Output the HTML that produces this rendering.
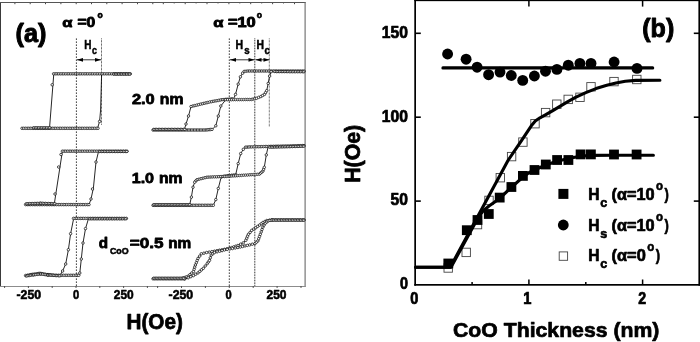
<!DOCTYPE html>
<html><head><meta charset="utf-8"><title>figure</title><style>html,body{margin:0;padding:0;background:#fff}svg{display:block}</style></head><body>
<svg width="700" height="342" viewBox="0 0 700 342">
<rect width="700" height="342" fill="#fff"/>
<rect x="0" y="2" width="1" height="285" fill="#3a3a3a"/>
<line x1="0" y1="2.5" x2="305.6" y2="2.5" stroke="#555" stroke-width="1"/>
<line x1="305.1" y1="2" x2="305.1" y2="287" stroke="#6a6a6a" stroke-width="1.1"/>
<line x1="0" y1="286.5" x2="305.6" y2="286.5" stroke="#8c8c8c" stroke-width="1"/>
<line x1="14.9" y1="3" x2="14.9" y2="4.2" stroke="#333" stroke-width="0.9"/>
<line x1="30.2" y1="3" x2="30.2" y2="4.2" stroke="#333" stroke-width="0.9"/>
<line x1="45.5" y1="3" x2="45.5" y2="4.2" stroke="#333" stroke-width="0.9"/>
<line x1="60.9" y1="3" x2="60.9" y2="4.2" stroke="#333" stroke-width="0.9"/>
<line x1="76.2" y1="3" x2="76.2" y2="4.2" stroke="#333" stroke-width="0.9"/>
<line x1="91.5" y1="3" x2="91.5" y2="4.2" stroke="#333" stroke-width="0.9"/>
<line x1="106.8" y1="3" x2="106.8" y2="4.2" stroke="#333" stroke-width="0.9"/>
<line x1="122.1" y1="3" x2="122.1" y2="4.2" stroke="#333" stroke-width="0.9"/>
<line x1="137.5" y1="3" x2="137.5" y2="4.2" stroke="#333" stroke-width="0.9"/>
<line x1="152.8" y1="3" x2="152.8" y2="4.2" stroke="#333" stroke-width="0.9"/>
<line x1="163.3" y1="3" x2="163.3" y2="4.2" stroke="#333" stroke-width="0.9"/>
<line x1="174.2" y1="3" x2="174.2" y2="3.8" stroke="#777" stroke-width="0.8"/>
<line x1="185.2" y1="3" x2="185.2" y2="4.2" stroke="#333" stroke-width="0.9"/>
<line x1="196.1" y1="3" x2="196.1" y2="3.8" stroke="#777" stroke-width="0.8"/>
<line x1="207.0" y1="3" x2="207.0" y2="4.2" stroke="#333" stroke-width="0.9"/>
<line x1="218.0" y1="3" x2="218.0" y2="3.8" stroke="#777" stroke-width="0.8"/>
<line x1="228.9" y1="3" x2="228.9" y2="4.2" stroke="#333" stroke-width="0.9"/>
<line x1="239.8" y1="3" x2="239.8" y2="3.8" stroke="#777" stroke-width="0.8"/>
<line x1="250.7" y1="3" x2="250.7" y2="4.2" stroke="#333" stroke-width="0.9"/>
<line x1="261.7" y1="3" x2="261.7" y2="3.8" stroke="#777" stroke-width="0.8"/>
<line x1="272.6" y1="3" x2="272.6" y2="4.2" stroke="#333" stroke-width="0.9"/>
<line x1="283.5" y1="3" x2="283.5" y2="3.8" stroke="#777" stroke-width="0.8"/>
<line x1="294.5" y1="3" x2="294.5" y2="4.2" stroke="#333" stroke-width="0.9"/>
<line x1="4.6" y1="286" x2="4.6" y2="288" stroke="#444" stroke-width="0.9"/>
<line x1="28.4" y1="286" x2="28.4" y2="288" stroke="#444" stroke-width="0.9"/>
<line x1="52.2" y1="286" x2="52.2" y2="288" stroke="#444" stroke-width="0.9"/>
<line x1="76.0" y1="286" x2="76.0" y2="288" stroke="#444" stroke-width="0.9"/>
<line x1="99.8" y1="286" x2="99.8" y2="288" stroke="#444" stroke-width="0.9"/>
<line x1="123.6" y1="286" x2="123.6" y2="288" stroke="#444" stroke-width="0.9"/>
<line x1="147.4" y1="286" x2="147.4" y2="288" stroke="#444" stroke-width="0.9"/>
<line x1="157.6" y1="286" x2="157.6" y2="288" stroke="#444" stroke-width="0.9"/>
<line x1="181.5" y1="286" x2="181.5" y2="288" stroke="#444" stroke-width="0.9"/>
<line x1="205.4" y1="286" x2="205.4" y2="288" stroke="#444" stroke-width="0.9"/>
<line x1="229.3" y1="286" x2="229.3" y2="288" stroke="#444" stroke-width="0.9"/>
<line x1="253.2" y1="286" x2="253.2" y2="288" stroke="#444" stroke-width="0.9"/>
<line x1="277.1" y1="286" x2="277.1" y2="288" stroke="#444" stroke-width="0.9"/>
<line x1="301.0" y1="286" x2="301.0" y2="288" stroke="#444" stroke-width="0.9"/>
<text x="16.5" y="298.6" font-size="12" textLength="24.6" lengthAdjust="spacingAndGlyphs" font-family="Liberation Sans, sans-serif" font-weight="bold" stroke="#000" stroke-width="0.55" stroke-linejoin="round" >-250</text>
<text x="73.1" y="298.6" font-size="12" textLength="6.200000000000003" lengthAdjust="spacingAndGlyphs" font-family="Liberation Sans, sans-serif" font-weight="bold" stroke="#000" stroke-width="0.55" stroke-linejoin="round" >0</text>
<text x="113.8" y="298.6" font-size="12" textLength="19.89999999999999" lengthAdjust="spacingAndGlyphs" font-family="Liberation Sans, sans-serif" font-weight="bold" stroke="#000" stroke-width="0.55" stroke-linejoin="round" >250</text>
<text x="168.6" y="298.6" font-size="12" textLength="24.599999999999994" lengthAdjust="spacingAndGlyphs" font-family="Liberation Sans, sans-serif" font-weight="bold" stroke="#000" stroke-width="0.55" stroke-linejoin="round" >-250</text>
<text x="225.4" y="298.6" font-size="12" textLength="6.199999999999989" lengthAdjust="spacingAndGlyphs" font-family="Liberation Sans, sans-serif" font-weight="bold" stroke="#000" stroke-width="0.55" stroke-linejoin="round" >0</text>
<text x="266.5" y="298.6" font-size="12" textLength="20.0" lengthAdjust="spacingAndGlyphs" font-family="Liberation Sans, sans-serif" font-weight="bold" stroke="#000" stroke-width="0.55" stroke-linejoin="round" >250</text>
<text x="126.5" y="329.1" font-size="21.4" textLength="56.3" lengthAdjust="spacingAndGlyphs" font-family="Liberation Sans, sans-serif" font-weight="bold" stroke="#000" stroke-width="0.75" stroke-linejoin="round" >H(Oe)</text>
<line x1="76.4" y1="38.5" x2="76.4" y2="286" stroke="#111" stroke-width="1.0" stroke-dasharray="1.3,1.7"/>
<line x1="101.5" y1="38.5" x2="101.5" y2="125" stroke="#333" stroke-width="1.0" stroke-dasharray="0.7,0.7"/>
<line x1="229.3" y1="38.5" x2="229.3" y2="286" stroke="#111" stroke-width="1.0" stroke-dasharray="1.3,1.7"/>
<line x1="254.8" y1="38.5" x2="254.8" y2="286" stroke="#000" stroke-width="1.0" stroke-dasharray="0.8,0.8"/>
<line x1="269.3" y1="38.5" x2="269.3" y2="127" stroke="#444" stroke-width="1.0" stroke-dasharray="0.7,0.7"/>
<line x1="77" y1="59.8" x2="101" y2="59.8" stroke="#000" stroke-width="0.8"/>
<path d="M77,59.8 l6,-1.9 l0,3.8 z" fill="#000"/>
<path d="M101,59.8 l-6,-1.9 l0,3.8 z" fill="#000"/>
<line x1="230" y1="59.8" x2="254.5" y2="59.8" stroke="#000" stroke-width="0.8"/>
<path d="M230,59.8 l6,-1.9 l0,3.8 z" fill="#000"/>
<path d="M254.5,59.8 l-6,-1.9 l0,3.8 z" fill="#000"/>
<line x1="255.5" y1="59.8" x2="269.5" y2="59.8" stroke="#000" stroke-width="0.8"/>
<path d="M255.5,59.8 l6,-1.9 l0,3.8 z" fill="#000"/>
<path d="M269.5,59.8 l-6,-1.9 l0,3.8 z" fill="#000"/>
<text x="15.6" y="41.5" font-size="25" textLength="30.9" lengthAdjust="spacingAndGlyphs" font-family="Liberation Sans, sans-serif" font-weight="bold" stroke="#000" stroke-width="0.95" stroke-linejoin="round" >(a)</text>
<text font-family="Liberation Sans, sans-serif" font-weight="bold" stroke="#000" stroke-linejoin="round"><tspan x="62.3" y="26.9" font-size="13.5" textLength="10.2" lengthAdjust="spacingAndGlyphs" stroke-width="0.8">α</tspan><tspan x="77.5" y="26.9" font-size="14" textLength="17.8" lengthAdjust="spacingAndGlyphs" stroke-width="0.9">=0</tspan><tspan x="97.5" y="18.1" font-size="9.2" textLength="5.2" lengthAdjust="spacingAndGlyphs" stroke-width="0.75">o</tspan></text>
<text font-family="Liberation Sans, sans-serif" font-weight="bold" stroke="#000" stroke-linejoin="round"><tspan x="213.2" y="26.8" font-size="13.5" textLength="10.2" lengthAdjust="spacingAndGlyphs" stroke-width="0.8">α</tspan><tspan x="227.9" y="26.8" font-size="14" textLength="27.8" lengthAdjust="spacingAndGlyphs" stroke-width="0.9">=10</tspan><tspan x="256.8" y="18.1" font-size="9.2" textLength="5.2" lengthAdjust="spacingAndGlyphs" stroke-width="0.75">o</tspan></text>
<text font-family="Liberation Sans, sans-serif" font-weight="bold" stroke="#000" stroke-linejoin="round"><tspan x="84.2" y="49.3" font-size="12.5" textLength="7.2" lengthAdjust="spacingAndGlyphs" stroke-width="0.5">H</tspan><tspan x="92.1" y="54.2" font-size="10.3" textLength="4.9" lengthAdjust="spacingAndGlyphs" stroke-width="0.5">c</tspan></text>
<text font-family="Liberation Sans, sans-serif" font-weight="bold" stroke="#000" stroke-linejoin="round"><tspan x="235.6" y="48.5" font-size="12.5" textLength="7.6" lengthAdjust="spacingAndGlyphs" stroke-width="0.5">H</tspan><tspan x="244.2" y="53.6" font-size="10.3" textLength="5.4" lengthAdjust="spacingAndGlyphs" stroke-width="0.5">s</tspan></text>
<text font-family="Liberation Sans, sans-serif" font-weight="bold" stroke="#000" stroke-linejoin="round"><tspan x="256.5" y="48.5" font-size="12.5" textLength="7.5" lengthAdjust="spacingAndGlyphs" stroke-width="0.5">H</tspan><tspan x="264.6" y="53.6" font-size="10.3" textLength="5.2" lengthAdjust="spacingAndGlyphs" stroke-width="0.5">c</tspan></text>
<text font-family="Liberation Sans, sans-serif" font-weight="bold" stroke="#000" stroke-linejoin="round"><tspan x="131.9" y="103.7" font-size="15" textLength="22.8" lengthAdjust="spacingAndGlyphs" stroke-width="0.8">2.0</tspan> <tspan x="159.8" y="103.7" font-size="15" textLength="23.6" lengthAdjust="spacingAndGlyphs" stroke-width="0.8">nm</tspan></text>
<text font-family="Liberation Sans, sans-serif" font-weight="bold" stroke="#000" stroke-linejoin="round"><tspan x="131.7" y="183.1" font-size="15" textLength="22.4" lengthAdjust="spacingAndGlyphs" stroke-width="0.8">1.0</tspan> <tspan x="159" y="183.1" font-size="15" textLength="23.6" lengthAdjust="spacingAndGlyphs" stroke-width="0.8">nm</tspan></text>
<text font-family="Liberation Sans, sans-serif" font-weight="bold" stroke="#000" stroke-linejoin="round"><tspan x="98.8" y="247.8" font-size="15" textLength="9.3" lengthAdjust="spacingAndGlyphs" stroke-width="0.8">d</tspan><tspan x="109.9" y="254.2" font-size="9.6" textLength="18.7" lengthAdjust="spacingAndGlyphs" stroke-width="0.55">CoO</tspan><tspan x="129.7" y="247.9" font-size="15" textLength="33.8" lengthAdjust="spacingAndGlyphs" stroke-width="0.8">=0.5</tspan> <tspan x="168.2" y="247.9" font-size="15" textLength="23" lengthAdjust="spacingAndGlyphs" stroke-width="0.8">nm</tspan></text>
<polyline fill="none" stroke="#000" stroke-width="0.85" points="53.6,73.8 130.3,73.8"/>
<polyline fill="none" stroke="#000" stroke-width="0.85" points="22.0,128.3 98.0,128.3"/>
<polyline fill="none" stroke="#000" stroke-width="0.85" points="53.8,73.8 49.5,128.3"/>
<polyline fill="none" stroke="#000" stroke-width="0.85" points="97.5,128.3 99.6,121.4 100.6,110.0 101.6,74.5"/>
<circle cx="53.6" cy="73.8" r="1.25" fill="#fff" stroke="#000" stroke-width="0.7"/>
<circle cx="55.3" cy="73.8" r="1.25" fill="#fff" stroke="#000" stroke-width="0.7"/>
<circle cx="57.0" cy="73.8" r="1.25" fill="#fff" stroke="#000" stroke-width="0.7"/>
<circle cx="58.7" cy="73.8" r="1.25" fill="#fff" stroke="#000" stroke-width="0.7"/>
<circle cx="60.4" cy="73.8" r="1.25" fill="#fff" stroke="#000" stroke-width="0.7"/>
<circle cx="62.1" cy="73.8" r="1.25" fill="#fff" stroke="#000" stroke-width="0.7"/>
<circle cx="63.8" cy="73.8" r="1.25" fill="#fff" stroke="#000" stroke-width="0.7"/>
<circle cx="65.5" cy="73.8" r="1.25" fill="#fff" stroke="#000" stroke-width="0.7"/>
<circle cx="67.2" cy="73.8" r="1.25" fill="#fff" stroke="#000" stroke-width="0.7"/>
<circle cx="68.9" cy="73.8" r="1.25" fill="#fff" stroke="#000" stroke-width="0.7"/>
<circle cx="70.6" cy="73.8" r="1.25" fill="#fff" stroke="#000" stroke-width="0.7"/>
<circle cx="72.3" cy="73.8" r="1.25" fill="#fff" stroke="#000" stroke-width="0.7"/>
<circle cx="74.1" cy="73.8" r="1.25" fill="#fff" stroke="#000" stroke-width="0.7"/>
<circle cx="75.8" cy="73.8" r="1.25" fill="#fff" stroke="#000" stroke-width="0.7"/>
<circle cx="77.5" cy="73.8" r="1.25" fill="#fff" stroke="#000" stroke-width="0.7"/>
<circle cx="79.2" cy="73.8" r="1.25" fill="#fff" stroke="#000" stroke-width="0.7"/>
<circle cx="80.9" cy="73.8" r="1.25" fill="#fff" stroke="#000" stroke-width="0.7"/>
<circle cx="82.6" cy="73.8" r="1.25" fill="#fff" stroke="#000" stroke-width="0.7"/>
<circle cx="84.3" cy="73.8" r="1.25" fill="#fff" stroke="#000" stroke-width="0.7"/>
<circle cx="86.0" cy="73.8" r="1.25" fill="#fff" stroke="#000" stroke-width="0.7"/>
<circle cx="87.7" cy="73.8" r="1.25" fill="#fff" stroke="#000" stroke-width="0.7"/>
<circle cx="89.4" cy="73.8" r="1.25" fill="#fff" stroke="#000" stroke-width="0.7"/>
<circle cx="91.1" cy="73.8" r="1.25" fill="#fff" stroke="#000" stroke-width="0.7"/>
<circle cx="92.8" cy="73.8" r="1.25" fill="#fff" stroke="#000" stroke-width="0.7"/>
<circle cx="94.5" cy="73.8" r="1.25" fill="#fff" stroke="#000" stroke-width="0.7"/>
<circle cx="96.2" cy="73.8" r="1.25" fill="#fff" stroke="#000" stroke-width="0.7"/>
<circle cx="97.9" cy="73.8" r="1.25" fill="#fff" stroke="#000" stroke-width="0.7"/>
<circle cx="99.6" cy="73.8" r="1.25" fill="#fff" stroke="#000" stroke-width="0.7"/>
<circle cx="101.3" cy="73.8" r="1.25" fill="#fff" stroke="#000" stroke-width="0.7"/>
<circle cx="103.0" cy="73.8" r="1.25" fill="#fff" stroke="#000" stroke-width="0.7"/>
<circle cx="104.7" cy="73.8" r="1.25" fill="#fff" stroke="#000" stroke-width="0.7"/>
<circle cx="106.4" cy="73.8" r="1.25" fill="#fff" stroke="#000" stroke-width="0.7"/>
<circle cx="108.1" cy="73.8" r="1.25" fill="#fff" stroke="#000" stroke-width="0.7"/>
<circle cx="109.8" cy="73.8" r="1.25" fill="#fff" stroke="#000" stroke-width="0.7"/>
<circle cx="111.6" cy="73.8" r="1.25" fill="#fff" stroke="#000" stroke-width="0.7"/>
<circle cx="113.3" cy="73.8" r="1.25" fill="#fff" stroke="#000" stroke-width="0.7"/>
<circle cx="115.0" cy="73.8" r="1.25" fill="#fff" stroke="#000" stroke-width="0.7"/>
<circle cx="116.7" cy="73.8" r="1.25" fill="#fff" stroke="#000" stroke-width="0.7"/>
<circle cx="118.4" cy="73.8" r="1.25" fill="#fff" stroke="#000" stroke-width="0.7"/>
<circle cx="120.1" cy="73.8" r="1.25" fill="#fff" stroke="#000" stroke-width="0.7"/>
<circle cx="121.8" cy="73.8" r="1.25" fill="#fff" stroke="#000" stroke-width="0.7"/>
<circle cx="123.5" cy="73.8" r="1.25" fill="#fff" stroke="#000" stroke-width="0.7"/>
<circle cx="125.2" cy="73.8" r="1.25" fill="#fff" stroke="#000" stroke-width="0.7"/>
<circle cx="126.9" cy="73.8" r="1.25" fill="#fff" stroke="#000" stroke-width="0.7"/>
<circle cx="128.6" cy="73.8" r="1.25" fill="#fff" stroke="#000" stroke-width="0.7"/>
<circle cx="130.3" cy="73.8" r="1.25" fill="#fff" stroke="#000" stroke-width="0.7"/>
<circle cx="22.0" cy="128.3" r="1.25" fill="#fff" stroke="#000" stroke-width="0.7"/>
<circle cx="23.7" cy="128.3" r="1.25" fill="#fff" stroke="#000" stroke-width="0.7"/>
<circle cx="25.4" cy="128.3" r="1.25" fill="#fff" stroke="#000" stroke-width="0.7"/>
<circle cx="27.1" cy="128.3" r="1.25" fill="#fff" stroke="#000" stroke-width="0.7"/>
<circle cx="28.8" cy="128.3" r="1.25" fill="#fff" stroke="#000" stroke-width="0.7"/>
<circle cx="30.4" cy="128.3" r="1.25" fill="#fff" stroke="#000" stroke-width="0.7"/>
<circle cx="32.1" cy="128.3" r="1.25" fill="#fff" stroke="#000" stroke-width="0.7"/>
<circle cx="33.8" cy="128.3" r="1.25" fill="#fff" stroke="#000" stroke-width="0.7"/>
<circle cx="35.5" cy="128.3" r="1.25" fill="#fff" stroke="#000" stroke-width="0.7"/>
<circle cx="37.2" cy="128.3" r="1.25" fill="#fff" stroke="#000" stroke-width="0.7"/>
<circle cx="38.9" cy="128.3" r="1.25" fill="#fff" stroke="#000" stroke-width="0.7"/>
<circle cx="40.6" cy="128.3" r="1.25" fill="#fff" stroke="#000" stroke-width="0.7"/>
<circle cx="42.3" cy="128.3" r="1.25" fill="#fff" stroke="#000" stroke-width="0.7"/>
<circle cx="44.0" cy="128.3" r="1.25" fill="#fff" stroke="#000" stroke-width="0.7"/>
<circle cx="45.6" cy="128.3" r="1.25" fill="#fff" stroke="#000" stroke-width="0.7"/>
<circle cx="47.3" cy="128.3" r="1.25" fill="#fff" stroke="#000" stroke-width="0.7"/>
<circle cx="49.0" cy="128.3" r="1.25" fill="#fff" stroke="#000" stroke-width="0.7"/>
<circle cx="50.7" cy="128.3" r="1.25" fill="#fff" stroke="#000" stroke-width="0.7"/>
<circle cx="52.4" cy="128.3" r="1.25" fill="#fff" stroke="#000" stroke-width="0.7"/>
<circle cx="54.1" cy="128.3" r="1.25" fill="#fff" stroke="#000" stroke-width="0.7"/>
<circle cx="55.8" cy="128.3" r="1.25" fill="#fff" stroke="#000" stroke-width="0.7"/>
<circle cx="57.5" cy="128.3" r="1.25" fill="#fff" stroke="#000" stroke-width="0.7"/>
<circle cx="59.2" cy="128.3" r="1.25" fill="#fff" stroke="#000" stroke-width="0.7"/>
<circle cx="60.8" cy="128.3" r="1.25" fill="#fff" stroke="#000" stroke-width="0.7"/>
<circle cx="62.5" cy="128.3" r="1.25" fill="#fff" stroke="#000" stroke-width="0.7"/>
<circle cx="64.2" cy="128.3" r="1.25" fill="#fff" stroke="#000" stroke-width="0.7"/>
<circle cx="65.9" cy="128.3" r="1.25" fill="#fff" stroke="#000" stroke-width="0.7"/>
<circle cx="67.6" cy="128.3" r="1.25" fill="#fff" stroke="#000" stroke-width="0.7"/>
<circle cx="69.3" cy="128.3" r="1.25" fill="#fff" stroke="#000" stroke-width="0.7"/>
<circle cx="71.0" cy="128.3" r="1.25" fill="#fff" stroke="#000" stroke-width="0.7"/>
<circle cx="72.7" cy="128.3" r="1.25" fill="#fff" stroke="#000" stroke-width="0.7"/>
<circle cx="74.4" cy="128.3" r="1.25" fill="#fff" stroke="#000" stroke-width="0.7"/>
<circle cx="76.0" cy="128.3" r="1.25" fill="#fff" stroke="#000" stroke-width="0.7"/>
<circle cx="77.7" cy="128.3" r="1.25" fill="#fff" stroke="#000" stroke-width="0.7"/>
<circle cx="79.4" cy="128.3" r="1.25" fill="#fff" stroke="#000" stroke-width="0.7"/>
<circle cx="81.1" cy="128.3" r="1.25" fill="#fff" stroke="#000" stroke-width="0.7"/>
<circle cx="82.8" cy="128.3" r="1.25" fill="#fff" stroke="#000" stroke-width="0.7"/>
<circle cx="84.5" cy="128.3" r="1.25" fill="#fff" stroke="#000" stroke-width="0.7"/>
<circle cx="86.2" cy="128.3" r="1.25" fill="#fff" stroke="#000" stroke-width="0.7"/>
<circle cx="87.9" cy="128.3" r="1.25" fill="#fff" stroke="#000" stroke-width="0.7"/>
<circle cx="89.6" cy="128.3" r="1.25" fill="#fff" stroke="#000" stroke-width="0.7"/>
<circle cx="91.2" cy="128.3" r="1.25" fill="#fff" stroke="#000" stroke-width="0.7"/>
<circle cx="92.9" cy="128.3" r="1.25" fill="#fff" stroke="#000" stroke-width="0.7"/>
<circle cx="94.6" cy="128.3" r="1.25" fill="#fff" stroke="#000" stroke-width="0.7"/>
<circle cx="96.3" cy="128.3" r="1.25" fill="#fff" stroke="#000" stroke-width="0.7"/>
<circle cx="98.0" cy="128.3" r="1.25" fill="#fff" stroke="#000" stroke-width="0.7"/>
<circle cx="52.2" cy="84.8" r="1.25" fill="#fff" stroke="#000" stroke-width="0.7"/>
<circle cx="99.6" cy="121.4" r="1.25" fill="#fff" stroke="#000" stroke-width="0.7"/>
<circle cx="33.8" cy="127.8" r="1.2" fill="#fff" stroke="#000" stroke-width="0.75"/>
<circle cx="35.4" cy="127.8" r="1.2" fill="#fff" stroke="#000" stroke-width="0.75"/>
<circle cx="37.0" cy="127.8" r="1.2" fill="#fff" stroke="#000" stroke-width="0.75"/>
<circle cx="38.6" cy="127.8" r="1.2" fill="#fff" stroke="#000" stroke-width="0.75"/>
<circle cx="40.2" cy="127.8" r="1.2" fill="#fff" stroke="#000" stroke-width="0.75"/>
<circle cx="41.8" cy="127.8" r="1.2" fill="#fff" stroke="#000" stroke-width="0.75"/>
<circle cx="43.4" cy="127.8" r="1.2" fill="#fff" stroke="#000" stroke-width="0.75"/>
<circle cx="45.0" cy="127.8" r="1.2" fill="#fff" stroke="#000" stroke-width="0.75"/>
<circle cx="46.6" cy="127.8" r="1.2" fill="#fff" stroke="#000" stroke-width="0.75"/>
<circle cx="48.2" cy="127.8" r="1.2" fill="#fff" stroke="#000" stroke-width="0.75"/>
<circle cx="49.8" cy="127.8" r="1.2" fill="#fff" stroke="#000" stroke-width="0.75"/>
<circle cx="113.8" cy="74.1" r="1.2" fill="#fff" stroke="#000" stroke-width="0.75"/>
<circle cx="115.4" cy="74.1" r="1.2" fill="#fff" stroke="#000" stroke-width="0.75"/>
<circle cx="117.0" cy="74.1" r="1.2" fill="#fff" stroke="#000" stroke-width="0.75"/>
<circle cx="118.6" cy="74.1" r="1.2" fill="#fff" stroke="#000" stroke-width="0.75"/>
<circle cx="120.2" cy="74.1" r="1.2" fill="#fff" stroke="#000" stroke-width="0.75"/>
<circle cx="121.8" cy="74.1" r="1.2" fill="#fff" stroke="#000" stroke-width="0.75"/>
<circle cx="123.4" cy="74.1" r="1.2" fill="#fff" stroke="#000" stroke-width="0.75"/>
<circle cx="125.0" cy="74.1" r="1.2" fill="#fff" stroke="#000" stroke-width="0.75"/>
<circle cx="126.6" cy="74.1" r="1.2" fill="#fff" stroke="#000" stroke-width="0.75"/>
<circle cx="128.2" cy="74.1" r="1.2" fill="#fff" stroke="#000" stroke-width="0.75"/>
<circle cx="129.8" cy="74.1" r="1.2" fill="#fff" stroke="#000" stroke-width="0.75"/>
<polyline fill="none" stroke="#000" stroke-width="0.85" points="62.4,151.2 127.0,151.2"/>
<polyline fill="none" stroke="#000" stroke-width="0.85" points="25.6,204.6 89.0,204.6"/>
<polyline fill="none" stroke="#000" stroke-width="0.85" points="62.4,151.2 54.2,204.6"/>
<polyline fill="none" stroke="#000" stroke-width="0.85" points="89.0,204.6 91.0,199.0 93.4,188.0 96.0,162.0 98.6,151.2"/>
<circle cx="62.4" cy="151.2" r="1.25" fill="#fff" stroke="#000" stroke-width="0.7"/>
<circle cx="64.1" cy="151.2" r="1.25" fill="#fff" stroke="#000" stroke-width="0.7"/>
<circle cx="65.8" cy="151.2" r="1.25" fill="#fff" stroke="#000" stroke-width="0.7"/>
<circle cx="67.5" cy="151.2" r="1.25" fill="#fff" stroke="#000" stroke-width="0.7"/>
<circle cx="69.2" cy="151.2" r="1.25" fill="#fff" stroke="#000" stroke-width="0.7"/>
<circle cx="70.9" cy="151.2" r="1.25" fill="#fff" stroke="#000" stroke-width="0.7"/>
<circle cx="72.6" cy="151.2" r="1.25" fill="#fff" stroke="#000" stroke-width="0.7"/>
<circle cx="74.3" cy="151.2" r="1.25" fill="#fff" stroke="#000" stroke-width="0.7"/>
<circle cx="76.0" cy="151.2" r="1.25" fill="#fff" stroke="#000" stroke-width="0.7"/>
<circle cx="77.7" cy="151.2" r="1.25" fill="#fff" stroke="#000" stroke-width="0.7"/>
<circle cx="79.4" cy="151.2" r="1.25" fill="#fff" stroke="#000" stroke-width="0.7"/>
<circle cx="81.1" cy="151.2" r="1.25" fill="#fff" stroke="#000" stroke-width="0.7"/>
<circle cx="82.8" cy="151.2" r="1.25" fill="#fff" stroke="#000" stroke-width="0.7"/>
<circle cx="84.5" cy="151.2" r="1.25" fill="#fff" stroke="#000" stroke-width="0.7"/>
<circle cx="86.2" cy="151.2" r="1.25" fill="#fff" stroke="#000" stroke-width="0.7"/>
<circle cx="87.9" cy="151.2" r="1.25" fill="#fff" stroke="#000" stroke-width="0.7"/>
<circle cx="89.6" cy="151.2" r="1.25" fill="#fff" stroke="#000" stroke-width="0.7"/>
<circle cx="91.3" cy="151.2" r="1.25" fill="#fff" stroke="#000" stroke-width="0.7"/>
<circle cx="93.0" cy="151.2" r="1.25" fill="#fff" stroke="#000" stroke-width="0.7"/>
<circle cx="94.7" cy="151.2" r="1.25" fill="#fff" stroke="#000" stroke-width="0.7"/>
<circle cx="96.4" cy="151.2" r="1.25" fill="#fff" stroke="#000" stroke-width="0.7"/>
<circle cx="98.1" cy="151.2" r="1.25" fill="#fff" stroke="#000" stroke-width="0.7"/>
<circle cx="99.8" cy="151.2" r="1.25" fill="#fff" stroke="#000" stroke-width="0.7"/>
<circle cx="101.5" cy="151.2" r="1.25" fill="#fff" stroke="#000" stroke-width="0.7"/>
<circle cx="103.2" cy="151.2" r="1.25" fill="#fff" stroke="#000" stroke-width="0.7"/>
<circle cx="104.9" cy="151.2" r="1.25" fill="#fff" stroke="#000" stroke-width="0.7"/>
<circle cx="106.6" cy="151.2" r="1.25" fill="#fff" stroke="#000" stroke-width="0.7"/>
<circle cx="108.3" cy="151.2" r="1.25" fill="#fff" stroke="#000" stroke-width="0.7"/>
<circle cx="110.0" cy="151.2" r="1.25" fill="#fff" stroke="#000" stroke-width="0.7"/>
<circle cx="111.7" cy="151.2" r="1.25" fill="#fff" stroke="#000" stroke-width="0.7"/>
<circle cx="113.4" cy="151.2" r="1.25" fill="#fff" stroke="#000" stroke-width="0.7"/>
<circle cx="115.1" cy="151.2" r="1.25" fill="#fff" stroke="#000" stroke-width="0.7"/>
<circle cx="116.8" cy="151.2" r="1.25" fill="#fff" stroke="#000" stroke-width="0.7"/>
<circle cx="118.5" cy="151.2" r="1.25" fill="#fff" stroke="#000" stroke-width="0.7"/>
<circle cx="120.2" cy="151.2" r="1.25" fill="#fff" stroke="#000" stroke-width="0.7"/>
<circle cx="121.9" cy="151.2" r="1.25" fill="#fff" stroke="#000" stroke-width="0.7"/>
<circle cx="123.6" cy="151.2" r="1.25" fill="#fff" stroke="#000" stroke-width="0.7"/>
<circle cx="125.3" cy="151.2" r="1.25" fill="#fff" stroke="#000" stroke-width="0.7"/>
<circle cx="127.0" cy="151.2" r="1.25" fill="#fff" stroke="#000" stroke-width="0.7"/>
<circle cx="25.6" cy="204.6" r="1.25" fill="#fff" stroke="#000" stroke-width="0.7"/>
<circle cx="27.3" cy="204.6" r="1.25" fill="#fff" stroke="#000" stroke-width="0.7"/>
<circle cx="29.0" cy="204.6" r="1.25" fill="#fff" stroke="#000" stroke-width="0.7"/>
<circle cx="30.7" cy="204.6" r="1.25" fill="#fff" stroke="#000" stroke-width="0.7"/>
<circle cx="32.5" cy="204.6" r="1.25" fill="#fff" stroke="#000" stroke-width="0.7"/>
<circle cx="34.2" cy="204.6" r="1.25" fill="#fff" stroke="#000" stroke-width="0.7"/>
<circle cx="35.9" cy="204.6" r="1.25" fill="#fff" stroke="#000" stroke-width="0.7"/>
<circle cx="37.6" cy="204.6" r="1.25" fill="#fff" stroke="#000" stroke-width="0.7"/>
<circle cx="39.3" cy="204.6" r="1.25" fill="#fff" stroke="#000" stroke-width="0.7"/>
<circle cx="41.0" cy="204.6" r="1.25" fill="#fff" stroke="#000" stroke-width="0.7"/>
<circle cx="42.7" cy="204.6" r="1.25" fill="#fff" stroke="#000" stroke-width="0.7"/>
<circle cx="44.4" cy="204.6" r="1.25" fill="#fff" stroke="#000" stroke-width="0.7"/>
<circle cx="46.2" cy="204.6" r="1.25" fill="#fff" stroke="#000" stroke-width="0.7"/>
<circle cx="47.9" cy="204.6" r="1.25" fill="#fff" stroke="#000" stroke-width="0.7"/>
<circle cx="49.6" cy="204.6" r="1.25" fill="#fff" stroke="#000" stroke-width="0.7"/>
<circle cx="51.3" cy="204.6" r="1.25" fill="#fff" stroke="#000" stroke-width="0.7"/>
<circle cx="53.0" cy="204.6" r="1.25" fill="#fff" stroke="#000" stroke-width="0.7"/>
<circle cx="54.7" cy="204.6" r="1.25" fill="#fff" stroke="#000" stroke-width="0.7"/>
<circle cx="56.4" cy="204.6" r="1.25" fill="#fff" stroke="#000" stroke-width="0.7"/>
<circle cx="58.2" cy="204.6" r="1.25" fill="#fff" stroke="#000" stroke-width="0.7"/>
<circle cx="59.9" cy="204.6" r="1.25" fill="#fff" stroke="#000" stroke-width="0.7"/>
<circle cx="61.6" cy="204.6" r="1.25" fill="#fff" stroke="#000" stroke-width="0.7"/>
<circle cx="63.3" cy="204.6" r="1.25" fill="#fff" stroke="#000" stroke-width="0.7"/>
<circle cx="65.0" cy="204.6" r="1.25" fill="#fff" stroke="#000" stroke-width="0.7"/>
<circle cx="66.7" cy="204.6" r="1.25" fill="#fff" stroke="#000" stroke-width="0.7"/>
<circle cx="68.4" cy="204.6" r="1.25" fill="#fff" stroke="#000" stroke-width="0.7"/>
<circle cx="70.2" cy="204.6" r="1.25" fill="#fff" stroke="#000" stroke-width="0.7"/>
<circle cx="71.9" cy="204.6" r="1.25" fill="#fff" stroke="#000" stroke-width="0.7"/>
<circle cx="73.6" cy="204.6" r="1.25" fill="#fff" stroke="#000" stroke-width="0.7"/>
<circle cx="75.3" cy="204.6" r="1.25" fill="#fff" stroke="#000" stroke-width="0.7"/>
<circle cx="77.0" cy="204.6" r="1.25" fill="#fff" stroke="#000" stroke-width="0.7"/>
<circle cx="78.7" cy="204.6" r="1.25" fill="#fff" stroke="#000" stroke-width="0.7"/>
<circle cx="80.4" cy="204.6" r="1.25" fill="#fff" stroke="#000" stroke-width="0.7"/>
<circle cx="82.1" cy="204.6" r="1.25" fill="#fff" stroke="#000" stroke-width="0.7"/>
<circle cx="83.9" cy="204.6" r="1.25" fill="#fff" stroke="#000" stroke-width="0.7"/>
<circle cx="85.6" cy="204.6" r="1.25" fill="#fff" stroke="#000" stroke-width="0.7"/>
<circle cx="87.3" cy="204.6" r="1.25" fill="#fff" stroke="#000" stroke-width="0.7"/>
<circle cx="89.0" cy="204.6" r="1.25" fill="#fff" stroke="#000" stroke-width="0.7"/>
<circle cx="61.0" cy="154.5" r="1.25" fill="#fff" stroke="#000" stroke-width="0.7"/>
<circle cx="58.7" cy="167.0" r="1.25" fill="#fff" stroke="#000" stroke-width="0.7"/>
<circle cx="55.0" cy="194.0" r="1.25" fill="#fff" stroke="#000" stroke-width="0.7"/>
<circle cx="91.0" cy="199.0" r="1.25" fill="#fff" stroke="#000" stroke-width="0.7"/>
<circle cx="92.5" cy="189.0" r="1.25" fill="#fff" stroke="#000" stroke-width="0.7"/>
<circle cx="96.0" cy="162.0" r="1.25" fill="#fff" stroke="#000" stroke-width="0.7"/>
<circle cx="26.4" cy="203.7" r="1.2" fill="#fff" stroke="#000" stroke-width="0.75"/>
<circle cx="28.0" cy="203.7" r="1.2" fill="#fff" stroke="#000" stroke-width="0.75"/>
<circle cx="29.6" cy="203.6" r="1.2" fill="#fff" stroke="#000" stroke-width="0.75"/>
<circle cx="31.2" cy="203.6" r="1.2" fill="#fff" stroke="#000" stroke-width="0.75"/>
<circle cx="32.8" cy="203.5" r="1.2" fill="#fff" stroke="#000" stroke-width="0.75"/>
<circle cx="34.4" cy="203.5" r="1.2" fill="#fff" stroke="#000" stroke-width="0.75"/>
<circle cx="36.0" cy="203.4" r="1.2" fill="#fff" stroke="#000" stroke-width="0.75"/>
<circle cx="37.6" cy="203.4" r="1.2" fill="#fff" stroke="#000" stroke-width="0.75"/>
<circle cx="39.2" cy="203.3" r="1.2" fill="#fff" stroke="#000" stroke-width="0.75"/>
<circle cx="40.8" cy="203.3" r="1.2" fill="#fff" stroke="#000" stroke-width="0.75"/>
<circle cx="40.8" cy="203.3" r="1.2" fill="#fff" stroke="#000" stroke-width="0.75"/>
<circle cx="42.4" cy="203.3" r="1.2" fill="#fff" stroke="#000" stroke-width="0.75"/>
<circle cx="43.9" cy="203.4" r="1.2" fill="#fff" stroke="#000" stroke-width="0.75"/>
<circle cx="45.5" cy="203.4" r="1.2" fill="#fff" stroke="#000" stroke-width="0.75"/>
<circle cx="47.0" cy="203.5" r="1.2" fill="#fff" stroke="#000" stroke-width="0.75"/>
<circle cx="48.6" cy="203.5" r="1.2" fill="#fff" stroke="#000" stroke-width="0.75"/>
<circle cx="50.1" cy="203.6" r="1.2" fill="#fff" stroke="#000" stroke-width="0.75"/>
<circle cx="51.7" cy="203.6" r="1.2" fill="#fff" stroke="#000" stroke-width="0.75"/>
<circle cx="53.2" cy="203.7" r="1.2" fill="#fff" stroke="#000" stroke-width="0.75"/>
<circle cx="54.8" cy="203.7" r="1.2" fill="#fff" stroke="#000" stroke-width="0.75"/>
<circle cx="99.8" cy="151.5" r="1.2" fill="#fff" stroke="#000" stroke-width="0.75"/>
<circle cx="101.4" cy="151.5" r="1.2" fill="#fff" stroke="#000" stroke-width="0.75"/>
<circle cx="103.0" cy="151.5" r="1.2" fill="#fff" stroke="#000" stroke-width="0.75"/>
<circle cx="104.6" cy="151.5" r="1.2" fill="#fff" stroke="#000" stroke-width="0.75"/>
<circle cx="106.2" cy="151.5" r="1.2" fill="#fff" stroke="#000" stroke-width="0.75"/>
<circle cx="107.7" cy="151.5" r="1.2" fill="#fff" stroke="#000" stroke-width="0.75"/>
<circle cx="109.3" cy="151.5" r="1.2" fill="#fff" stroke="#000" stroke-width="0.75"/>
<circle cx="110.9" cy="151.5" r="1.2" fill="#fff" stroke="#000" stroke-width="0.75"/>
<circle cx="112.5" cy="151.5" r="1.2" fill="#fff" stroke="#000" stroke-width="0.75"/>
<circle cx="114.1" cy="151.5" r="1.2" fill="#fff" stroke="#000" stroke-width="0.75"/>
<circle cx="115.7" cy="151.5" r="1.2" fill="#fff" stroke="#000" stroke-width="0.75"/>
<circle cx="117.3" cy="151.5" r="1.2" fill="#fff" stroke="#000" stroke-width="0.75"/>
<circle cx="118.9" cy="151.5" r="1.2" fill="#fff" stroke="#000" stroke-width="0.75"/>
<circle cx="120.4" cy="151.5" r="1.2" fill="#fff" stroke="#000" stroke-width="0.75"/>
<circle cx="122.0" cy="151.5" r="1.2" fill="#fff" stroke="#000" stroke-width="0.75"/>
<circle cx="123.6" cy="151.5" r="1.2" fill="#fff" stroke="#000" stroke-width="0.75"/>
<circle cx="125.2" cy="151.5" r="1.2" fill="#fff" stroke="#000" stroke-width="0.75"/>
<circle cx="126.8" cy="151.5" r="1.2" fill="#fff" stroke="#000" stroke-width="0.75"/>
<polyline fill="none" stroke="#000" stroke-width="0.85" points="73.5,218.4 126.4,218.4"/>
<polyline fill="none" stroke="#000" stroke-width="0.85" points="25.6,275.5 33.0,274.2 40.0,273.3 47.0,274.5 55.0,275.3 78.8,275.3"/>
<polyline fill="none" stroke="#000" stroke-width="0.85" points="73.7,218.3 70.6,233.7 68.4,249.7 65.7,264.0 62.6,271.0 60.0,275.3"/>
<polyline fill="none" stroke="#000" stroke-width="0.85" points="78.8,275.3 79.8,273.0 81.3,259.0 83.0,243.0 85.5,228.6 88.6,218.3"/>
<circle cx="73.5" cy="218.4" r="1.25" fill="#fff" stroke="#000" stroke-width="0.7"/>
<circle cx="75.2" cy="218.4" r="1.25" fill="#fff" stroke="#000" stroke-width="0.7"/>
<circle cx="76.9" cy="218.4" r="1.25" fill="#fff" stroke="#000" stroke-width="0.7"/>
<circle cx="78.6" cy="218.4" r="1.25" fill="#fff" stroke="#000" stroke-width="0.7"/>
<circle cx="80.3" cy="218.4" r="1.25" fill="#fff" stroke="#000" stroke-width="0.7"/>
<circle cx="82.0" cy="218.4" r="1.25" fill="#fff" stroke="#000" stroke-width="0.7"/>
<circle cx="83.7" cy="218.4" r="1.25" fill="#fff" stroke="#000" stroke-width="0.7"/>
<circle cx="85.4" cy="218.4" r="1.25" fill="#fff" stroke="#000" stroke-width="0.7"/>
<circle cx="87.2" cy="218.4" r="1.25" fill="#fff" stroke="#000" stroke-width="0.7"/>
<circle cx="88.9" cy="218.4" r="1.25" fill="#fff" stroke="#000" stroke-width="0.7"/>
<circle cx="90.6" cy="218.4" r="1.25" fill="#fff" stroke="#000" stroke-width="0.7"/>
<circle cx="92.3" cy="218.4" r="1.25" fill="#fff" stroke="#000" stroke-width="0.7"/>
<circle cx="94.0" cy="218.4" r="1.25" fill="#fff" stroke="#000" stroke-width="0.7"/>
<circle cx="95.7" cy="218.4" r="1.25" fill="#fff" stroke="#000" stroke-width="0.7"/>
<circle cx="97.4" cy="218.4" r="1.25" fill="#fff" stroke="#000" stroke-width="0.7"/>
<circle cx="99.1" cy="218.4" r="1.25" fill="#fff" stroke="#000" stroke-width="0.7"/>
<circle cx="100.8" cy="218.4" r="1.25" fill="#fff" stroke="#000" stroke-width="0.7"/>
<circle cx="102.5" cy="218.4" r="1.25" fill="#fff" stroke="#000" stroke-width="0.7"/>
<circle cx="104.2" cy="218.4" r="1.25" fill="#fff" stroke="#000" stroke-width="0.7"/>
<circle cx="105.9" cy="218.4" r="1.25" fill="#fff" stroke="#000" stroke-width="0.7"/>
<circle cx="107.6" cy="218.4" r="1.25" fill="#fff" stroke="#000" stroke-width="0.7"/>
<circle cx="109.3" cy="218.4" r="1.25" fill="#fff" stroke="#000" stroke-width="0.7"/>
<circle cx="111.0" cy="218.4" r="1.25" fill="#fff" stroke="#000" stroke-width="0.7"/>
<circle cx="112.7" cy="218.4" r="1.25" fill="#fff" stroke="#000" stroke-width="0.7"/>
<circle cx="114.5" cy="218.4" r="1.25" fill="#fff" stroke="#000" stroke-width="0.7"/>
<circle cx="116.2" cy="218.4" r="1.25" fill="#fff" stroke="#000" stroke-width="0.7"/>
<circle cx="117.9" cy="218.4" r="1.25" fill="#fff" stroke="#000" stroke-width="0.7"/>
<circle cx="119.6" cy="218.4" r="1.25" fill="#fff" stroke="#000" stroke-width="0.7"/>
<circle cx="121.3" cy="218.4" r="1.25" fill="#fff" stroke="#000" stroke-width="0.7"/>
<circle cx="123.0" cy="218.4" r="1.25" fill="#fff" stroke="#000" stroke-width="0.7"/>
<circle cx="124.7" cy="218.4" r="1.25" fill="#fff" stroke="#000" stroke-width="0.7"/>
<circle cx="126.4" cy="218.4" r="1.25" fill="#fff" stroke="#000" stroke-width="0.7"/>
<circle cx="25.6" cy="275.5" r="1.25" fill="#fff" stroke="#000" stroke-width="0.7"/>
<circle cx="27.5" cy="275.2" r="1.25" fill="#fff" stroke="#000" stroke-width="0.7"/>
<circle cx="29.3" cy="274.9" r="1.25" fill="#fff" stroke="#000" stroke-width="0.7"/>
<circle cx="31.1" cy="274.5" r="1.25" fill="#fff" stroke="#000" stroke-width="0.7"/>
<circle cx="33.0" cy="274.2" r="1.25" fill="#fff" stroke="#000" stroke-width="0.7"/>
<circle cx="34.8" cy="274.0" r="1.25" fill="#fff" stroke="#000" stroke-width="0.7"/>
<circle cx="36.5" cy="273.8" r="1.25" fill="#fff" stroke="#000" stroke-width="0.7"/>
<circle cx="38.2" cy="273.5" r="1.25" fill="#fff" stroke="#000" stroke-width="0.7"/>
<circle cx="40.0" cy="273.3" r="1.25" fill="#fff" stroke="#000" stroke-width="0.7"/>
<circle cx="41.8" cy="273.6" r="1.25" fill="#fff" stroke="#000" stroke-width="0.7"/>
<circle cx="43.5" cy="273.9" r="1.25" fill="#fff" stroke="#000" stroke-width="0.7"/>
<circle cx="45.2" cy="274.2" r="1.25" fill="#fff" stroke="#000" stroke-width="0.7"/>
<circle cx="47.0" cy="274.5" r="1.25" fill="#fff" stroke="#000" stroke-width="0.7"/>
<circle cx="48.6" cy="274.7" r="1.25" fill="#fff" stroke="#000" stroke-width="0.7"/>
<circle cx="50.2" cy="274.8" r="1.25" fill="#fff" stroke="#000" stroke-width="0.7"/>
<circle cx="51.8" cy="275.0" r="1.25" fill="#fff" stroke="#000" stroke-width="0.7"/>
<circle cx="53.4" cy="275.1" r="1.25" fill="#fff" stroke="#000" stroke-width="0.7"/>
<circle cx="55.0" cy="275.3" r="1.25" fill="#fff" stroke="#000" stroke-width="0.7"/>
<circle cx="56.7" cy="275.3" r="1.25" fill="#fff" stroke="#000" stroke-width="0.7"/>
<circle cx="58.4" cy="275.3" r="1.25" fill="#fff" stroke="#000" stroke-width="0.7"/>
<circle cx="60.1" cy="275.3" r="1.25" fill="#fff" stroke="#000" stroke-width="0.7"/>
<circle cx="61.8" cy="275.3" r="1.25" fill="#fff" stroke="#000" stroke-width="0.7"/>
<circle cx="63.5" cy="275.3" r="1.25" fill="#fff" stroke="#000" stroke-width="0.7"/>
<circle cx="65.2" cy="275.3" r="1.25" fill="#fff" stroke="#000" stroke-width="0.7"/>
<circle cx="66.9" cy="275.3" r="1.25" fill="#fff" stroke="#000" stroke-width="0.7"/>
<circle cx="68.6" cy="275.3" r="1.25" fill="#fff" stroke="#000" stroke-width="0.7"/>
<circle cx="70.3" cy="275.3" r="1.25" fill="#fff" stroke="#000" stroke-width="0.7"/>
<circle cx="72.0" cy="275.3" r="1.25" fill="#fff" stroke="#000" stroke-width="0.7"/>
<circle cx="73.7" cy="275.3" r="1.25" fill="#fff" stroke="#000" stroke-width="0.7"/>
<circle cx="75.4" cy="275.3" r="1.25" fill="#fff" stroke="#000" stroke-width="0.7"/>
<circle cx="77.1" cy="275.3" r="1.25" fill="#fff" stroke="#000" stroke-width="0.7"/>
<circle cx="78.8" cy="275.3" r="1.25" fill="#fff" stroke="#000" stroke-width="0.7"/>
<circle cx="70.6" cy="233.7" r="1.25" fill="#fff" stroke="#000" stroke-width="0.7"/>
<circle cx="68.4" cy="249.7" r="1.25" fill="#fff" stroke="#000" stroke-width="0.7"/>
<circle cx="65.7" cy="264.0" r="1.25" fill="#fff" stroke="#000" stroke-width="0.7"/>
<circle cx="62.6" cy="271.0" r="1.25" fill="#fff" stroke="#000" stroke-width="0.7"/>
<circle cx="79.8" cy="273.0" r="1.25" fill="#fff" stroke="#000" stroke-width="0.7"/>
<circle cx="81.3" cy="259.0" r="1.25" fill="#fff" stroke="#000" stroke-width="0.7"/>
<circle cx="83.0" cy="243.0" r="1.25" fill="#fff" stroke="#000" stroke-width="0.7"/>
<circle cx="85.5" cy="228.6" r="1.25" fill="#fff" stroke="#000" stroke-width="0.7"/>
<circle cx="26.4" cy="276.0" r="1.2" fill="#fff" stroke="#000" stroke-width="0.75"/>
<circle cx="27.9" cy="275.7" r="1.2" fill="#fff" stroke="#000" stroke-width="0.75"/>
<circle cx="29.4" cy="275.5" r="1.2" fill="#fff" stroke="#000" stroke-width="0.75"/>
<circle cx="30.8" cy="275.2" r="1.2" fill="#fff" stroke="#000" stroke-width="0.75"/>
<circle cx="32.3" cy="275.0" r="1.2" fill="#fff" stroke="#000" stroke-width="0.75"/>
<circle cx="33.8" cy="274.8" r="1.2" fill="#fff" stroke="#000" stroke-width="0.75"/>
<circle cx="33.8" cy="274.8" r="1.2" fill="#fff" stroke="#000" stroke-width="0.75"/>
<circle cx="35.5" cy="274.6" r="1.2" fill="#fff" stroke="#000" stroke-width="0.75"/>
<circle cx="37.3" cy="274.4" r="1.2" fill="#fff" stroke="#000" stroke-width="0.75"/>
<circle cx="39.0" cy="274.2" r="1.2" fill="#fff" stroke="#000" stroke-width="0.75"/>
<circle cx="40.8" cy="274.0" r="1.2" fill="#fff" stroke="#000" stroke-width="0.75"/>
<circle cx="40.8" cy="274.0" r="1.2" fill="#fff" stroke="#000" stroke-width="0.75"/>
<circle cx="42.5" cy="274.2" r="1.2" fill="#fff" stroke="#000" stroke-width="0.75"/>
<circle cx="44.3" cy="274.5" r="1.2" fill="#fff" stroke="#000" stroke-width="0.75"/>
<circle cx="46.0" cy="274.8" r="1.2" fill="#fff" stroke="#000" stroke-width="0.75"/>
<circle cx="47.8" cy="275.1" r="1.2" fill="#fff" stroke="#000" stroke-width="0.75"/>
<circle cx="47.8" cy="275.1" r="1.2" fill="#fff" stroke="#000" stroke-width="0.75"/>
<circle cx="49.3" cy="275.1" r="1.2" fill="#fff" stroke="#000" stroke-width="0.75"/>
<circle cx="50.8" cy="275.2" r="1.2" fill="#fff" stroke="#000" stroke-width="0.75"/>
<circle cx="52.3" cy="275.3" r="1.2" fill="#fff" stroke="#000" stroke-width="0.75"/>
<circle cx="53.8" cy="275.4" r="1.2" fill="#fff" stroke="#000" stroke-width="0.75"/>
<circle cx="55.3" cy="275.5" r="1.2" fill="#fff" stroke="#000" stroke-width="0.75"/>
<circle cx="56.8" cy="275.6" r="1.2" fill="#fff" stroke="#000" stroke-width="0.75"/>
<circle cx="58.3" cy="275.7" r="1.2" fill="#fff" stroke="#000" stroke-width="0.75"/>
<circle cx="59.8" cy="275.8" r="1.2" fill="#fff" stroke="#000" stroke-width="0.75"/>
<circle cx="89.8" cy="218.8" r="1.2" fill="#fff" stroke="#000" stroke-width="0.75"/>
<circle cx="91.4" cy="218.8" r="1.2" fill="#fff" stroke="#000" stroke-width="0.75"/>
<circle cx="93.1" cy="218.8" r="1.2" fill="#fff" stroke="#000" stroke-width="0.75"/>
<circle cx="94.7" cy="218.8" r="1.2" fill="#fff" stroke="#000" stroke-width="0.75"/>
<circle cx="96.3" cy="218.8" r="1.2" fill="#fff" stroke="#000" stroke-width="0.75"/>
<circle cx="98.0" cy="218.8" r="1.2" fill="#fff" stroke="#000" stroke-width="0.75"/>
<circle cx="99.6" cy="218.8" r="1.2" fill="#fff" stroke="#000" stroke-width="0.75"/>
<circle cx="101.3" cy="218.8" r="1.2" fill="#fff" stroke="#000" stroke-width="0.75"/>
<circle cx="102.9" cy="218.8" r="1.2" fill="#fff" stroke="#000" stroke-width="0.75"/>
<circle cx="104.5" cy="218.8" r="1.2" fill="#fff" stroke="#000" stroke-width="0.75"/>
<circle cx="106.2" cy="218.8" r="1.2" fill="#fff" stroke="#000" stroke-width="0.75"/>
<circle cx="107.8" cy="218.8" r="1.2" fill="#fff" stroke="#000" stroke-width="0.75"/>
<circle cx="109.4" cy="218.8" r="1.2" fill="#fff" stroke="#000" stroke-width="0.75"/>
<circle cx="111.1" cy="218.8" r="1.2" fill="#fff" stroke="#000" stroke-width="0.75"/>
<circle cx="112.7" cy="218.8" r="1.2" fill="#fff" stroke="#000" stroke-width="0.75"/>
<circle cx="114.3" cy="218.8" r="1.2" fill="#fff" stroke="#000" stroke-width="0.75"/>
<circle cx="116.0" cy="218.8" r="1.2" fill="#fff" stroke="#000" stroke-width="0.75"/>
<circle cx="117.6" cy="218.8" r="1.2" fill="#fff" stroke="#000" stroke-width="0.75"/>
<circle cx="119.3" cy="218.8" r="1.2" fill="#fff" stroke="#000" stroke-width="0.75"/>
<circle cx="120.9" cy="218.8" r="1.2" fill="#fff" stroke="#000" stroke-width="0.75"/>
<circle cx="122.5" cy="218.8" r="1.2" fill="#fff" stroke="#000" stroke-width="0.75"/>
<circle cx="124.2" cy="218.8" r="1.2" fill="#fff" stroke="#000" stroke-width="0.75"/>
<circle cx="125.8" cy="218.8" r="1.2" fill="#fff" stroke="#000" stroke-width="0.75"/>
<polyline fill="none" stroke="#000" stroke-width="0.85" points="244.2,71.4 248.0,71.0 304.0,71.0"/>
<polyline fill="none" stroke="#000" stroke-width="0.85" points="153.0,130.0 205.0,130.0 212.0,129.4"/>
<polyline fill="none" stroke="#000" stroke-width="0.85" points="244.2,71.4 242.6,73.2 240.4,76.8 238.2,84.1 235.5,94.4 233.8,98.3 232.0,98.8"/>
<polyline fill="none" stroke="#000" stroke-width="0.85" points="232.0,98.8 222.0,99.7 209.6,102.0 191.0,106.5"/>
<polyline fill="none" stroke="#000" stroke-width="0.85" points="191.0,106.5 188.5,116.0 184.7,128.4"/>
<polyline fill="none" stroke="#000" stroke-width="0.85" points="212.0,129.6 215.8,125.8 218.3,116.0 220.8,106.0 225.8,99.7"/>
<polyline fill="none" stroke="#000" stroke-width="0.85" points="225.8,99.7 239.4,99.6 251.3,99.5 256.5,98.3 260.8,96.6 264.5,94.4 266.7,90.7"/>
<polyline fill="none" stroke="#000" stroke-width="0.85" points="266.7,90.7 268.2,83.4 269.6,76.1 271.1,71.7 273.3,70.4"/>
<circle cx="244.2" cy="71.4" r="1.25" fill="#fff" stroke="#000" stroke-width="0.7"/>
<circle cx="246.1" cy="71.2" r="1.25" fill="#fff" stroke="#000" stroke-width="0.7"/>
<circle cx="248.0" cy="71.0" r="1.25" fill="#fff" stroke="#000" stroke-width="0.7"/>
<circle cx="249.7" cy="71.0" r="1.25" fill="#fff" stroke="#000" stroke-width="0.7"/>
<circle cx="251.4" cy="71.0" r="1.25" fill="#fff" stroke="#000" stroke-width="0.7"/>
<circle cx="253.1" cy="71.0" r="1.25" fill="#fff" stroke="#000" stroke-width="0.7"/>
<circle cx="254.8" cy="71.0" r="1.25" fill="#fff" stroke="#000" stroke-width="0.7"/>
<circle cx="256.5" cy="71.0" r="1.25" fill="#fff" stroke="#000" stroke-width="0.7"/>
<circle cx="258.2" cy="71.0" r="1.25" fill="#fff" stroke="#000" stroke-width="0.7"/>
<circle cx="259.9" cy="71.0" r="1.25" fill="#fff" stroke="#000" stroke-width="0.7"/>
<circle cx="261.6" cy="71.0" r="1.25" fill="#fff" stroke="#000" stroke-width="0.7"/>
<circle cx="263.3" cy="71.0" r="1.25" fill="#fff" stroke="#000" stroke-width="0.7"/>
<circle cx="265.0" cy="71.0" r="1.25" fill="#fff" stroke="#000" stroke-width="0.7"/>
<circle cx="266.7" cy="71.0" r="1.25" fill="#fff" stroke="#000" stroke-width="0.7"/>
<circle cx="268.4" cy="71.0" r="1.25" fill="#fff" stroke="#000" stroke-width="0.7"/>
<circle cx="270.1" cy="71.0" r="1.25" fill="#fff" stroke="#000" stroke-width="0.7"/>
<circle cx="271.8" cy="71.0" r="1.25" fill="#fff" stroke="#000" stroke-width="0.7"/>
<circle cx="273.5" cy="71.0" r="1.25" fill="#fff" stroke="#000" stroke-width="0.7"/>
<circle cx="275.2" cy="71.0" r="1.25" fill="#fff" stroke="#000" stroke-width="0.7"/>
<circle cx="276.8" cy="71.0" r="1.25" fill="#fff" stroke="#000" stroke-width="0.7"/>
<circle cx="278.5" cy="71.0" r="1.25" fill="#fff" stroke="#000" stroke-width="0.7"/>
<circle cx="280.2" cy="71.0" r="1.25" fill="#fff" stroke="#000" stroke-width="0.7"/>
<circle cx="281.9" cy="71.0" r="1.25" fill="#fff" stroke="#000" stroke-width="0.7"/>
<circle cx="283.6" cy="71.0" r="1.25" fill="#fff" stroke="#000" stroke-width="0.7"/>
<circle cx="285.3" cy="71.0" r="1.25" fill="#fff" stroke="#000" stroke-width="0.7"/>
<circle cx="287.0" cy="71.0" r="1.25" fill="#fff" stroke="#000" stroke-width="0.7"/>
<circle cx="288.7" cy="71.0" r="1.25" fill="#fff" stroke="#000" stroke-width="0.7"/>
<circle cx="290.4" cy="71.0" r="1.25" fill="#fff" stroke="#000" stroke-width="0.7"/>
<circle cx="292.1" cy="71.0" r="1.25" fill="#fff" stroke="#000" stroke-width="0.7"/>
<circle cx="293.8" cy="71.0" r="1.25" fill="#fff" stroke="#000" stroke-width="0.7"/>
<circle cx="295.5" cy="71.0" r="1.25" fill="#fff" stroke="#000" stroke-width="0.7"/>
<circle cx="297.2" cy="71.0" r="1.25" fill="#fff" stroke="#000" stroke-width="0.7"/>
<circle cx="298.9" cy="71.0" r="1.25" fill="#fff" stroke="#000" stroke-width="0.7"/>
<circle cx="300.6" cy="71.0" r="1.25" fill="#fff" stroke="#000" stroke-width="0.7"/>
<circle cx="302.3" cy="71.0" r="1.25" fill="#fff" stroke="#000" stroke-width="0.7"/>
<circle cx="304.0" cy="71.0" r="1.25" fill="#fff" stroke="#000" stroke-width="0.7"/>
<circle cx="153.0" cy="130.0" r="1.25" fill="#fff" stroke="#000" stroke-width="0.7"/>
<circle cx="154.5" cy="130.0" r="1.25" fill="#fff" stroke="#000" stroke-width="0.7"/>
<circle cx="156.0" cy="130.0" r="1.25" fill="#fff" stroke="#000" stroke-width="0.7"/>
<circle cx="157.5" cy="130.0" r="1.25" fill="#fff" stroke="#000" stroke-width="0.7"/>
<circle cx="158.9" cy="130.0" r="1.25" fill="#fff" stroke="#000" stroke-width="0.7"/>
<circle cx="160.4" cy="130.0" r="1.25" fill="#fff" stroke="#000" stroke-width="0.7"/>
<circle cx="161.9" cy="130.0" r="1.25" fill="#fff" stroke="#000" stroke-width="0.7"/>
<circle cx="163.4" cy="130.0" r="1.25" fill="#fff" stroke="#000" stroke-width="0.7"/>
<circle cx="164.9" cy="130.0" r="1.25" fill="#fff" stroke="#000" stroke-width="0.7"/>
<circle cx="166.4" cy="130.0" r="1.25" fill="#fff" stroke="#000" stroke-width="0.7"/>
<circle cx="167.9" cy="130.0" r="1.25" fill="#fff" stroke="#000" stroke-width="0.7"/>
<circle cx="169.3" cy="130.0" r="1.25" fill="#fff" stroke="#000" stroke-width="0.7"/>
<circle cx="170.8" cy="130.0" r="1.25" fill="#fff" stroke="#000" stroke-width="0.7"/>
<circle cx="172.3" cy="130.0" r="1.25" fill="#fff" stroke="#000" stroke-width="0.7"/>
<circle cx="173.8" cy="130.0" r="1.25" fill="#fff" stroke="#000" stroke-width="0.7"/>
<circle cx="175.3" cy="130.0" r="1.25" fill="#fff" stroke="#000" stroke-width="0.7"/>
<circle cx="176.8" cy="130.0" r="1.25" fill="#fff" stroke="#000" stroke-width="0.7"/>
<circle cx="178.3" cy="130.0" r="1.25" fill="#fff" stroke="#000" stroke-width="0.7"/>
<circle cx="179.7" cy="130.0" r="1.25" fill="#fff" stroke="#000" stroke-width="0.7"/>
<circle cx="181.2" cy="130.0" r="1.25" fill="#fff" stroke="#000" stroke-width="0.7"/>
<circle cx="182.7" cy="130.0" r="1.25" fill="#fff" stroke="#000" stroke-width="0.7"/>
<circle cx="184.2" cy="130.0" r="1.25" fill="#fff" stroke="#000" stroke-width="0.7"/>
<circle cx="185.7" cy="130.0" r="1.25" fill="#fff" stroke="#000" stroke-width="0.7"/>
<circle cx="187.2" cy="130.0" r="1.25" fill="#fff" stroke="#000" stroke-width="0.7"/>
<circle cx="188.7" cy="130.0" r="1.25" fill="#fff" stroke="#000" stroke-width="0.7"/>
<circle cx="190.1" cy="130.0" r="1.25" fill="#fff" stroke="#000" stroke-width="0.7"/>
<circle cx="191.6" cy="130.0" r="1.25" fill="#fff" stroke="#000" stroke-width="0.7"/>
<circle cx="193.1" cy="130.0" r="1.25" fill="#fff" stroke="#000" stroke-width="0.7"/>
<circle cx="194.6" cy="130.0" r="1.25" fill="#fff" stroke="#000" stroke-width="0.7"/>
<circle cx="196.1" cy="130.0" r="1.25" fill="#fff" stroke="#000" stroke-width="0.7"/>
<circle cx="197.6" cy="130.0" r="1.25" fill="#fff" stroke="#000" stroke-width="0.7"/>
<circle cx="199.1" cy="130.0" r="1.25" fill="#fff" stroke="#000" stroke-width="0.7"/>
<circle cx="200.5" cy="130.0" r="1.25" fill="#fff" stroke="#000" stroke-width="0.7"/>
<circle cx="202.0" cy="130.0" r="1.25" fill="#fff" stroke="#000" stroke-width="0.7"/>
<circle cx="203.5" cy="130.0" r="1.25" fill="#fff" stroke="#000" stroke-width="0.7"/>
<circle cx="205.0" cy="130.0" r="1.25" fill="#fff" stroke="#000" stroke-width="0.7"/>
<circle cx="206.4" cy="129.9" r="1.25" fill="#fff" stroke="#000" stroke-width="0.7"/>
<circle cx="207.8" cy="129.8" r="1.25" fill="#fff" stroke="#000" stroke-width="0.7"/>
<circle cx="209.2" cy="129.6" r="1.25" fill="#fff" stroke="#000" stroke-width="0.7"/>
<circle cx="210.6" cy="129.5" r="1.25" fill="#fff" stroke="#000" stroke-width="0.7"/>
<circle cx="212.0" cy="129.4" r="1.25" fill="#fff" stroke="#000" stroke-width="0.7"/>
<circle cx="242.6" cy="73.2" r="1.25" fill="#fff" stroke="#000" stroke-width="0.7"/>
<circle cx="240.4" cy="76.8" r="1.25" fill="#fff" stroke="#000" stroke-width="0.7"/>
<circle cx="238.2" cy="84.1" r="1.25" fill="#fff" stroke="#000" stroke-width="0.7"/>
<circle cx="235.5" cy="94.4" r="1.25" fill="#fff" stroke="#000" stroke-width="0.7"/>
<circle cx="232.0" cy="98.8" r="1.25" fill="#fff" stroke="#000" stroke-width="0.7"/>
<circle cx="230.0" cy="99.0" r="1.25" fill="#fff" stroke="#000" stroke-width="0.7"/>
<circle cx="228.0" cy="99.2" r="1.25" fill="#fff" stroke="#000" stroke-width="0.7"/>
<circle cx="226.0" cy="99.3" r="1.25" fill="#fff" stroke="#000" stroke-width="0.7"/>
<circle cx="224.0" cy="99.5" r="1.25" fill="#fff" stroke="#000" stroke-width="0.7"/>
<circle cx="222.0" cy="99.7" r="1.25" fill="#fff" stroke="#000" stroke-width="0.7"/>
<circle cx="220.2" cy="100.0" r="1.25" fill="#fff" stroke="#000" stroke-width="0.7"/>
<circle cx="218.5" cy="100.4" r="1.25" fill="#fff" stroke="#000" stroke-width="0.7"/>
<circle cx="216.7" cy="100.7" r="1.25" fill="#fff" stroke="#000" stroke-width="0.7"/>
<circle cx="214.9" cy="101.0" r="1.25" fill="#fff" stroke="#000" stroke-width="0.7"/>
<circle cx="213.1" cy="101.3" r="1.25" fill="#fff" stroke="#000" stroke-width="0.7"/>
<circle cx="211.4" cy="101.7" r="1.25" fill="#fff" stroke="#000" stroke-width="0.7"/>
<circle cx="209.6" cy="102.0" r="1.25" fill="#fff" stroke="#000" stroke-width="0.7"/>
<circle cx="207.7" cy="102.5" r="1.25" fill="#fff" stroke="#000" stroke-width="0.7"/>
<circle cx="205.9" cy="102.9" r="1.25" fill="#fff" stroke="#000" stroke-width="0.7"/>
<circle cx="204.0" cy="103.3" r="1.25" fill="#fff" stroke="#000" stroke-width="0.7"/>
<circle cx="202.2" cy="103.8" r="1.25" fill="#fff" stroke="#000" stroke-width="0.7"/>
<circle cx="200.3" cy="104.2" r="1.25" fill="#fff" stroke="#000" stroke-width="0.7"/>
<circle cx="198.4" cy="104.7" r="1.25" fill="#fff" stroke="#000" stroke-width="0.7"/>
<circle cx="196.6" cy="105.2" r="1.25" fill="#fff" stroke="#000" stroke-width="0.7"/>
<circle cx="194.7" cy="105.6" r="1.25" fill="#fff" stroke="#000" stroke-width="0.7"/>
<circle cx="192.9" cy="106.0" r="1.25" fill="#fff" stroke="#000" stroke-width="0.7"/>
<circle cx="191.0" cy="106.5" r="1.25" fill="#fff" stroke="#000" stroke-width="0.7"/>
<circle cx="188.5" cy="116.0" r="1.25" fill="#fff" stroke="#000" stroke-width="0.7"/>
<circle cx="186.0" cy="124.0" r="1.25" fill="#fff" stroke="#000" stroke-width="0.7"/>
<circle cx="215.8" cy="125.8" r="1.25" fill="#fff" stroke="#000" stroke-width="0.7"/>
<circle cx="218.3" cy="116.0" r="1.25" fill="#fff" stroke="#000" stroke-width="0.7"/>
<circle cx="220.8" cy="106.0" r="1.25" fill="#fff" stroke="#000" stroke-width="0.7"/>
<circle cx="225.8" cy="99.7" r="1.25" fill="#fff" stroke="#000" stroke-width="0.7"/>
<circle cx="227.7" cy="99.7" r="1.25" fill="#fff" stroke="#000" stroke-width="0.7"/>
<circle cx="229.7" cy="99.7" r="1.25" fill="#fff" stroke="#000" stroke-width="0.7"/>
<circle cx="231.6" cy="99.7" r="1.25" fill="#fff" stroke="#000" stroke-width="0.7"/>
<circle cx="233.6" cy="99.6" r="1.25" fill="#fff" stroke="#000" stroke-width="0.7"/>
<circle cx="235.5" cy="99.6" r="1.25" fill="#fff" stroke="#000" stroke-width="0.7"/>
<circle cx="237.5" cy="99.6" r="1.25" fill="#fff" stroke="#000" stroke-width="0.7"/>
<circle cx="239.4" cy="99.6" r="1.25" fill="#fff" stroke="#000" stroke-width="0.7"/>
<circle cx="241.4" cy="99.6" r="1.25" fill="#fff" stroke="#000" stroke-width="0.7"/>
<circle cx="243.4" cy="99.6" r="1.25" fill="#fff" stroke="#000" stroke-width="0.7"/>
<circle cx="245.4" cy="99.5" r="1.25" fill="#fff" stroke="#000" stroke-width="0.7"/>
<circle cx="247.3" cy="99.5" r="1.25" fill="#fff" stroke="#000" stroke-width="0.7"/>
<circle cx="249.3" cy="99.5" r="1.25" fill="#fff" stroke="#000" stroke-width="0.7"/>
<circle cx="251.3" cy="99.5" r="1.25" fill="#fff" stroke="#000" stroke-width="0.7"/>
<circle cx="253.0" cy="99.1" r="1.25" fill="#fff" stroke="#000" stroke-width="0.7"/>
<circle cx="254.8" cy="98.7" r="1.25" fill="#fff" stroke="#000" stroke-width="0.7"/>
<circle cx="256.5" cy="98.3" r="1.25" fill="#fff" stroke="#000" stroke-width="0.7"/>
<circle cx="258.6" cy="97.4" r="1.25" fill="#fff" stroke="#000" stroke-width="0.7"/>
<circle cx="260.8" cy="96.6" r="1.25" fill="#fff" stroke="#000" stroke-width="0.7"/>
<circle cx="262.6" cy="95.5" r="1.25" fill="#fff" stroke="#000" stroke-width="0.7"/>
<circle cx="264.5" cy="94.4" r="1.25" fill="#fff" stroke="#000" stroke-width="0.7"/>
<circle cx="265.6" cy="92.6" r="1.25" fill="#fff" stroke="#000" stroke-width="0.7"/>
<circle cx="266.7" cy="90.7" r="1.25" fill="#fff" stroke="#000" stroke-width="0.7"/>
<circle cx="268.2" cy="83.4" r="1.25" fill="#fff" stroke="#000" stroke-width="0.7"/>
<circle cx="269.6" cy="76.1" r="1.25" fill="#fff" stroke="#000" stroke-width="0.7"/>
<circle cx="271.1" cy="71.7" r="1.25" fill="#fff" stroke="#000" stroke-width="0.7"/>
<circle cx="153.8" cy="129.4" r="1.2" fill="#fff" stroke="#000" stroke-width="0.75"/>
<circle cx="155.2" cy="129.4" r="1.2" fill="#fff" stroke="#000" stroke-width="0.75"/>
<circle cx="156.7" cy="129.4" r="1.2" fill="#fff" stroke="#000" stroke-width="0.75"/>
<circle cx="158.2" cy="129.4" r="1.2" fill="#fff" stroke="#000" stroke-width="0.75"/>
<circle cx="159.7" cy="129.4" r="1.2" fill="#fff" stroke="#000" stroke-width="0.75"/>
<circle cx="161.1" cy="129.4" r="1.2" fill="#fff" stroke="#000" stroke-width="0.75"/>
<circle cx="162.6" cy="129.4" r="1.2" fill="#fff" stroke="#000" stroke-width="0.75"/>
<circle cx="164.1" cy="129.4" r="1.2" fill="#fff" stroke="#000" stroke-width="0.75"/>
<circle cx="165.6" cy="129.4" r="1.2" fill="#fff" stroke="#000" stroke-width="0.75"/>
<circle cx="167.0" cy="129.4" r="1.2" fill="#fff" stroke="#000" stroke-width="0.75"/>
<circle cx="168.5" cy="129.4" r="1.2" fill="#fff" stroke="#000" stroke-width="0.75"/>
<circle cx="170.0" cy="129.4" r="1.2" fill="#fff" stroke="#000" stroke-width="0.75"/>
<circle cx="171.5" cy="129.4" r="1.2" fill="#fff" stroke="#000" stroke-width="0.75"/>
<circle cx="172.9" cy="129.4" r="1.2" fill="#fff" stroke="#000" stroke-width="0.75"/>
<circle cx="174.4" cy="129.4" r="1.2" fill="#fff" stroke="#000" stroke-width="0.75"/>
<circle cx="175.9" cy="129.4" r="1.2" fill="#fff" stroke="#000" stroke-width="0.75"/>
<circle cx="177.4" cy="129.4" r="1.2" fill="#fff" stroke="#000" stroke-width="0.75"/>
<circle cx="178.8" cy="129.4" r="1.2" fill="#fff" stroke="#000" stroke-width="0.75"/>
<circle cx="180.3" cy="129.4" r="1.2" fill="#fff" stroke="#000" stroke-width="0.75"/>
<circle cx="181.8" cy="129.4" r="1.2" fill="#fff" stroke="#000" stroke-width="0.75"/>
<circle cx="183.3" cy="129.4" r="1.2" fill="#fff" stroke="#000" stroke-width="0.75"/>
<circle cx="184.8" cy="129.4" r="1.2" fill="#fff" stroke="#000" stroke-width="0.75"/>
<circle cx="274.8" cy="71.5" r="1.2" fill="#fff" stroke="#000" stroke-width="0.75"/>
<circle cx="276.4" cy="71.6" r="1.2" fill="#fff" stroke="#000" stroke-width="0.75"/>
<circle cx="278.0" cy="71.6" r="1.2" fill="#fff" stroke="#000" stroke-width="0.75"/>
<circle cx="279.6" cy="71.6" r="1.2" fill="#fff" stroke="#000" stroke-width="0.75"/>
<circle cx="281.2" cy="71.6" r="1.2" fill="#fff" stroke="#000" stroke-width="0.75"/>
<circle cx="282.9" cy="71.6" r="1.2" fill="#fff" stroke="#000" stroke-width="0.75"/>
<circle cx="284.5" cy="71.6" r="1.2" fill="#fff" stroke="#000" stroke-width="0.75"/>
<circle cx="286.1" cy="71.6" r="1.2" fill="#fff" stroke="#000" stroke-width="0.75"/>
<circle cx="287.7" cy="71.6" r="1.2" fill="#fff" stroke="#000" stroke-width="0.75"/>
<circle cx="289.3" cy="71.7" r="1.2" fill="#fff" stroke="#000" stroke-width="0.75"/>
<circle cx="290.9" cy="71.7" r="1.2" fill="#fff" stroke="#000" stroke-width="0.75"/>
<circle cx="292.5" cy="71.7" r="1.2" fill="#fff" stroke="#000" stroke-width="0.75"/>
<circle cx="294.1" cy="71.7" r="1.2" fill="#fff" stroke="#000" stroke-width="0.75"/>
<circle cx="295.7" cy="71.7" r="1.2" fill="#fff" stroke="#000" stroke-width="0.75"/>
<circle cx="297.4" cy="71.7" r="1.2" fill="#fff" stroke="#000" stroke-width="0.75"/>
<circle cx="299.0" cy="71.7" r="1.2" fill="#fff" stroke="#000" stroke-width="0.75"/>
<circle cx="300.6" cy="71.7" r="1.2" fill="#fff" stroke="#000" stroke-width="0.75"/>
<circle cx="302.2" cy="71.7" r="1.2" fill="#fff" stroke="#000" stroke-width="0.75"/>
<circle cx="303.8" cy="71.8" r="1.2" fill="#fff" stroke="#000" stroke-width="0.75"/>
<polyline fill="none" stroke="#000" stroke-width="0.85" points="245.5,147.2 250.0,146.9 304.0,145.6"/>
<polyline fill="none" stroke="#000" stroke-width="0.85" points="153.0,205.3 213.3,205.3"/>
<polyline fill="none" stroke="#000" stroke-width="0.85" points="245.5,147.2 243.3,149.3 240.7,153.6 238.2,163.6 235.7,174.7"/>
<polyline fill="none" stroke="#000" stroke-width="0.85" points="235.7,174.7 222.0,176.5 207.0,177.2 197.0,179.7 194.7,182.2"/>
<polyline fill="none" stroke="#000" stroke-width="0.85" points="194.7,182.2 193.0,187.2 191.4,197.1 189.7,204.6"/>
<polyline fill="none" stroke="#000" stroke-width="0.85" points="213.3,205.3 215.8,199.6 218.3,188.4 220.8,178.5 224.5,176.5"/>
<polyline fill="none" stroke="#000" stroke-width="0.85" points="224.5,176.5 239.4,175.5 259.3,174.2 263.0,171.0 264.3,167.3"/>
<polyline fill="none" stroke="#000" stroke-width="0.85" points="264.3,167.3 266.3,154.9 268.0,147.2"/>
<circle cx="245.5" cy="147.2" r="1.25" fill="#fff" stroke="#000" stroke-width="0.7"/>
<circle cx="247.0" cy="147.1" r="1.25" fill="#fff" stroke="#000" stroke-width="0.7"/>
<circle cx="248.5" cy="147.0" r="1.25" fill="#fff" stroke="#000" stroke-width="0.7"/>
<circle cx="250.0" cy="146.9" r="1.25" fill="#fff" stroke="#000" stroke-width="0.7"/>
<circle cx="251.7" cy="146.9" r="1.25" fill="#fff" stroke="#000" stroke-width="0.7"/>
<circle cx="253.4" cy="146.8" r="1.25" fill="#fff" stroke="#000" stroke-width="0.7"/>
<circle cx="255.1" cy="146.8" r="1.25" fill="#fff" stroke="#000" stroke-width="0.7"/>
<circle cx="256.8" cy="146.7" r="1.25" fill="#fff" stroke="#000" stroke-width="0.7"/>
<circle cx="258.4" cy="146.7" r="1.25" fill="#fff" stroke="#000" stroke-width="0.7"/>
<circle cx="260.1" cy="146.7" r="1.25" fill="#fff" stroke="#000" stroke-width="0.7"/>
<circle cx="261.8" cy="146.6" r="1.25" fill="#fff" stroke="#000" stroke-width="0.7"/>
<circle cx="263.5" cy="146.6" r="1.25" fill="#fff" stroke="#000" stroke-width="0.7"/>
<circle cx="265.2" cy="146.5" r="1.25" fill="#fff" stroke="#000" stroke-width="0.7"/>
<circle cx="266.9" cy="146.5" r="1.25" fill="#fff" stroke="#000" stroke-width="0.7"/>
<circle cx="268.6" cy="146.5" r="1.25" fill="#fff" stroke="#000" stroke-width="0.7"/>
<circle cx="270.2" cy="146.4" r="1.25" fill="#fff" stroke="#000" stroke-width="0.7"/>
<circle cx="271.9" cy="146.4" r="1.25" fill="#fff" stroke="#000" stroke-width="0.7"/>
<circle cx="273.6" cy="146.3" r="1.25" fill="#fff" stroke="#000" stroke-width="0.7"/>
<circle cx="275.3" cy="146.3" r="1.25" fill="#fff" stroke="#000" stroke-width="0.7"/>
<circle cx="277.0" cy="146.2" r="1.25" fill="#fff" stroke="#000" stroke-width="0.7"/>
<circle cx="278.7" cy="146.2" r="1.25" fill="#fff" stroke="#000" stroke-width="0.7"/>
<circle cx="280.4" cy="146.2" r="1.25" fill="#fff" stroke="#000" stroke-width="0.7"/>
<circle cx="282.1" cy="146.1" r="1.25" fill="#fff" stroke="#000" stroke-width="0.7"/>
<circle cx="283.8" cy="146.1" r="1.25" fill="#fff" stroke="#000" stroke-width="0.7"/>
<circle cx="285.4" cy="146.0" r="1.25" fill="#fff" stroke="#000" stroke-width="0.7"/>
<circle cx="287.1" cy="146.0" r="1.25" fill="#fff" stroke="#000" stroke-width="0.7"/>
<circle cx="288.8" cy="146.0" r="1.25" fill="#fff" stroke="#000" stroke-width="0.7"/>
<circle cx="290.5" cy="145.9" r="1.25" fill="#fff" stroke="#000" stroke-width="0.7"/>
<circle cx="292.2" cy="145.9" r="1.25" fill="#fff" stroke="#000" stroke-width="0.7"/>
<circle cx="293.9" cy="145.8" r="1.25" fill="#fff" stroke="#000" stroke-width="0.7"/>
<circle cx="295.6" cy="145.8" r="1.25" fill="#fff" stroke="#000" stroke-width="0.7"/>
<circle cx="297.2" cy="145.8" r="1.25" fill="#fff" stroke="#000" stroke-width="0.7"/>
<circle cx="298.9" cy="145.7" r="1.25" fill="#fff" stroke="#000" stroke-width="0.7"/>
<circle cx="300.6" cy="145.7" r="1.25" fill="#fff" stroke="#000" stroke-width="0.7"/>
<circle cx="302.3" cy="145.6" r="1.25" fill="#fff" stroke="#000" stroke-width="0.7"/>
<circle cx="304.0" cy="145.6" r="1.25" fill="#fff" stroke="#000" stroke-width="0.7"/>
<circle cx="153.0" cy="205.3" r="1.25" fill="#fff" stroke="#000" stroke-width="0.7"/>
<circle cx="154.5" cy="205.3" r="1.25" fill="#fff" stroke="#000" stroke-width="0.7"/>
<circle cx="156.0" cy="205.3" r="1.25" fill="#fff" stroke="#000" stroke-width="0.7"/>
<circle cx="157.5" cy="205.3" r="1.25" fill="#fff" stroke="#000" stroke-width="0.7"/>
<circle cx="159.0" cy="205.3" r="1.25" fill="#fff" stroke="#000" stroke-width="0.7"/>
<circle cx="160.5" cy="205.3" r="1.25" fill="#fff" stroke="#000" stroke-width="0.7"/>
<circle cx="162.0" cy="205.3" r="1.25" fill="#fff" stroke="#000" stroke-width="0.7"/>
<circle cx="163.6" cy="205.3" r="1.25" fill="#fff" stroke="#000" stroke-width="0.7"/>
<circle cx="165.1" cy="205.3" r="1.25" fill="#fff" stroke="#000" stroke-width="0.7"/>
<circle cx="166.6" cy="205.3" r="1.25" fill="#fff" stroke="#000" stroke-width="0.7"/>
<circle cx="168.1" cy="205.3" r="1.25" fill="#fff" stroke="#000" stroke-width="0.7"/>
<circle cx="169.6" cy="205.3" r="1.25" fill="#fff" stroke="#000" stroke-width="0.7"/>
<circle cx="171.1" cy="205.3" r="1.25" fill="#fff" stroke="#000" stroke-width="0.7"/>
<circle cx="172.6" cy="205.3" r="1.25" fill="#fff" stroke="#000" stroke-width="0.7"/>
<circle cx="174.1" cy="205.3" r="1.25" fill="#fff" stroke="#000" stroke-width="0.7"/>
<circle cx="175.6" cy="205.3" r="1.25" fill="#fff" stroke="#000" stroke-width="0.7"/>
<circle cx="177.1" cy="205.3" r="1.25" fill="#fff" stroke="#000" stroke-width="0.7"/>
<circle cx="178.6" cy="205.3" r="1.25" fill="#fff" stroke="#000" stroke-width="0.7"/>
<circle cx="180.1" cy="205.3" r="1.25" fill="#fff" stroke="#000" stroke-width="0.7"/>
<circle cx="181.6" cy="205.3" r="1.25" fill="#fff" stroke="#000" stroke-width="0.7"/>
<circle cx="183.2" cy="205.3" r="1.25" fill="#fff" stroke="#000" stroke-width="0.7"/>
<circle cx="184.7" cy="205.3" r="1.25" fill="#fff" stroke="#000" stroke-width="0.7"/>
<circle cx="186.2" cy="205.3" r="1.25" fill="#fff" stroke="#000" stroke-width="0.7"/>
<circle cx="187.7" cy="205.3" r="1.25" fill="#fff" stroke="#000" stroke-width="0.7"/>
<circle cx="189.2" cy="205.3" r="1.25" fill="#fff" stroke="#000" stroke-width="0.7"/>
<circle cx="190.7" cy="205.3" r="1.25" fill="#fff" stroke="#000" stroke-width="0.7"/>
<circle cx="192.2" cy="205.3" r="1.25" fill="#fff" stroke="#000" stroke-width="0.7"/>
<circle cx="193.7" cy="205.3" r="1.25" fill="#fff" stroke="#000" stroke-width="0.7"/>
<circle cx="195.2" cy="205.3" r="1.25" fill="#fff" stroke="#000" stroke-width="0.7"/>
<circle cx="196.7" cy="205.3" r="1.25" fill="#fff" stroke="#000" stroke-width="0.7"/>
<circle cx="198.2" cy="205.3" r="1.25" fill="#fff" stroke="#000" stroke-width="0.7"/>
<circle cx="199.7" cy="205.3" r="1.25" fill="#fff" stroke="#000" stroke-width="0.7"/>
<circle cx="201.2" cy="205.3" r="1.25" fill="#fff" stroke="#000" stroke-width="0.7"/>
<circle cx="202.7" cy="205.3" r="1.25" fill="#fff" stroke="#000" stroke-width="0.7"/>
<circle cx="204.3" cy="205.3" r="1.25" fill="#fff" stroke="#000" stroke-width="0.7"/>
<circle cx="205.8" cy="205.3" r="1.25" fill="#fff" stroke="#000" stroke-width="0.7"/>
<circle cx="207.3" cy="205.3" r="1.25" fill="#fff" stroke="#000" stroke-width="0.7"/>
<circle cx="208.8" cy="205.3" r="1.25" fill="#fff" stroke="#000" stroke-width="0.7"/>
<circle cx="210.3" cy="205.3" r="1.25" fill="#fff" stroke="#000" stroke-width="0.7"/>
<circle cx="211.8" cy="205.3" r="1.25" fill="#fff" stroke="#000" stroke-width="0.7"/>
<circle cx="213.3" cy="205.3" r="1.25" fill="#fff" stroke="#000" stroke-width="0.7"/>
<circle cx="243.3" cy="149.3" r="1.25" fill="#fff" stroke="#000" stroke-width="0.7"/>
<circle cx="240.7" cy="153.6" r="1.25" fill="#fff" stroke="#000" stroke-width="0.7"/>
<circle cx="238.2" cy="163.6" r="1.25" fill="#fff" stroke="#000" stroke-width="0.7"/>
<circle cx="235.7" cy="174.7" r="1.25" fill="#fff" stroke="#000" stroke-width="0.7"/>
<circle cx="233.7" cy="175.0" r="1.25" fill="#fff" stroke="#000" stroke-width="0.7"/>
<circle cx="231.8" cy="175.2" r="1.25" fill="#fff" stroke="#000" stroke-width="0.7"/>
<circle cx="229.8" cy="175.5" r="1.25" fill="#fff" stroke="#000" stroke-width="0.7"/>
<circle cx="227.9" cy="175.7" r="1.25" fill="#fff" stroke="#000" stroke-width="0.7"/>
<circle cx="225.9" cy="176.0" r="1.25" fill="#fff" stroke="#000" stroke-width="0.7"/>
<circle cx="224.0" cy="176.2" r="1.25" fill="#fff" stroke="#000" stroke-width="0.7"/>
<circle cx="222.0" cy="176.5" r="1.25" fill="#fff" stroke="#000" stroke-width="0.7"/>
<circle cx="220.1" cy="176.6" r="1.25" fill="#fff" stroke="#000" stroke-width="0.7"/>
<circle cx="218.2" cy="176.7" r="1.25" fill="#fff" stroke="#000" stroke-width="0.7"/>
<circle cx="216.4" cy="176.8" r="1.25" fill="#fff" stroke="#000" stroke-width="0.7"/>
<circle cx="214.5" cy="176.8" r="1.25" fill="#fff" stroke="#000" stroke-width="0.7"/>
<circle cx="212.6" cy="176.9" r="1.25" fill="#fff" stroke="#000" stroke-width="0.7"/>
<circle cx="210.8" cy="177.0" r="1.25" fill="#fff" stroke="#000" stroke-width="0.7"/>
<circle cx="208.9" cy="177.1" r="1.25" fill="#fff" stroke="#000" stroke-width="0.7"/>
<circle cx="207.0" cy="177.2" r="1.25" fill="#fff" stroke="#000" stroke-width="0.7"/>
<circle cx="205.0" cy="177.7" r="1.25" fill="#fff" stroke="#000" stroke-width="0.7"/>
<circle cx="203.0" cy="178.2" r="1.25" fill="#fff" stroke="#000" stroke-width="0.7"/>
<circle cx="201.0" cy="178.7" r="1.25" fill="#fff" stroke="#000" stroke-width="0.7"/>
<circle cx="199.0" cy="179.2" r="1.25" fill="#fff" stroke="#000" stroke-width="0.7"/>
<circle cx="197.0" cy="179.7" r="1.25" fill="#fff" stroke="#000" stroke-width="0.7"/>
<circle cx="195.8" cy="180.9" r="1.25" fill="#fff" stroke="#000" stroke-width="0.7"/>
<circle cx="194.7" cy="182.2" r="1.25" fill="#fff" stroke="#000" stroke-width="0.7"/>
<circle cx="193.0" cy="187.2" r="1.25" fill="#fff" stroke="#000" stroke-width="0.7"/>
<circle cx="191.4" cy="197.1" r="1.25" fill="#fff" stroke="#000" stroke-width="0.7"/>
<circle cx="215.8" cy="199.6" r="1.25" fill="#fff" stroke="#000" stroke-width="0.7"/>
<circle cx="218.3" cy="188.4" r="1.25" fill="#fff" stroke="#000" stroke-width="0.7"/>
<circle cx="224.5" cy="176.5" r="1.25" fill="#fff" stroke="#000" stroke-width="0.7"/>
<circle cx="226.4" cy="176.4" r="1.25" fill="#fff" stroke="#000" stroke-width="0.7"/>
<circle cx="228.2" cy="176.2" r="1.25" fill="#fff" stroke="#000" stroke-width="0.7"/>
<circle cx="230.1" cy="176.1" r="1.25" fill="#fff" stroke="#000" stroke-width="0.7"/>
<circle cx="231.9" cy="176.0" r="1.25" fill="#fff" stroke="#000" stroke-width="0.7"/>
<circle cx="233.8" cy="175.9" r="1.25" fill="#fff" stroke="#000" stroke-width="0.7"/>
<circle cx="235.7" cy="175.8" r="1.25" fill="#fff" stroke="#000" stroke-width="0.7"/>
<circle cx="237.5" cy="175.6" r="1.25" fill="#fff" stroke="#000" stroke-width="0.7"/>
<circle cx="239.4" cy="175.5" r="1.25" fill="#fff" stroke="#000" stroke-width="0.7"/>
<circle cx="241.4" cy="175.4" r="1.25" fill="#fff" stroke="#000" stroke-width="0.7"/>
<circle cx="243.4" cy="175.2" r="1.25" fill="#fff" stroke="#000" stroke-width="0.7"/>
<circle cx="245.4" cy="175.1" r="1.25" fill="#fff" stroke="#000" stroke-width="0.7"/>
<circle cx="247.4" cy="175.0" r="1.25" fill="#fff" stroke="#000" stroke-width="0.7"/>
<circle cx="249.4" cy="174.8" r="1.25" fill="#fff" stroke="#000" stroke-width="0.7"/>
<circle cx="251.3" cy="174.7" r="1.25" fill="#fff" stroke="#000" stroke-width="0.7"/>
<circle cx="253.3" cy="174.6" r="1.25" fill="#fff" stroke="#000" stroke-width="0.7"/>
<circle cx="255.3" cy="174.5" r="1.25" fill="#fff" stroke="#000" stroke-width="0.7"/>
<circle cx="257.3" cy="174.3" r="1.25" fill="#fff" stroke="#000" stroke-width="0.7"/>
<circle cx="259.3" cy="174.2" r="1.25" fill="#fff" stroke="#000" stroke-width="0.7"/>
<circle cx="260.5" cy="173.1" r="1.25" fill="#fff" stroke="#000" stroke-width="0.7"/>
<circle cx="261.8" cy="172.1" r="1.25" fill="#fff" stroke="#000" stroke-width="0.7"/>
<circle cx="263.0" cy="171.0" r="1.25" fill="#fff" stroke="#000" stroke-width="0.7"/>
<circle cx="263.6" cy="169.2" r="1.25" fill="#fff" stroke="#000" stroke-width="0.7"/>
<circle cx="264.3" cy="167.3" r="1.25" fill="#fff" stroke="#000" stroke-width="0.7"/>
<circle cx="266.3" cy="154.9" r="1.25" fill="#fff" stroke="#000" stroke-width="0.7"/>
<circle cx="153.8" cy="204.7" r="1.2" fill="#fff" stroke="#000" stroke-width="0.75"/>
<circle cx="155.2" cy="204.7" r="1.2" fill="#fff" stroke="#000" stroke-width="0.75"/>
<circle cx="156.8" cy="204.7" r="1.2" fill="#fff" stroke="#000" stroke-width="0.75"/>
<circle cx="158.2" cy="204.7" r="1.2" fill="#fff" stroke="#000" stroke-width="0.75"/>
<circle cx="159.8" cy="204.7" r="1.2" fill="#fff" stroke="#000" stroke-width="0.75"/>
<circle cx="161.2" cy="204.7" r="1.2" fill="#fff" stroke="#000" stroke-width="0.75"/>
<circle cx="162.8" cy="204.7" r="1.2" fill="#fff" stroke="#000" stroke-width="0.75"/>
<circle cx="164.2" cy="204.7" r="1.2" fill="#fff" stroke="#000" stroke-width="0.75"/>
<circle cx="165.8" cy="204.7" r="1.2" fill="#fff" stroke="#000" stroke-width="0.75"/>
<circle cx="167.2" cy="204.7" r="1.2" fill="#fff" stroke="#000" stroke-width="0.75"/>
<circle cx="168.8" cy="204.7" r="1.2" fill="#fff" stroke="#000" stroke-width="0.75"/>
<circle cx="170.2" cy="204.7" r="1.2" fill="#fff" stroke="#000" stroke-width="0.75"/>
<circle cx="171.8" cy="204.7" r="1.2" fill="#fff" stroke="#000" stroke-width="0.75"/>
<circle cx="173.2" cy="204.7" r="1.2" fill="#fff" stroke="#000" stroke-width="0.75"/>
<circle cx="174.8" cy="204.7" r="1.2" fill="#fff" stroke="#000" stroke-width="0.75"/>
<circle cx="176.2" cy="204.7" r="1.2" fill="#fff" stroke="#000" stroke-width="0.75"/>
<circle cx="177.8" cy="204.7" r="1.2" fill="#fff" stroke="#000" stroke-width="0.75"/>
<circle cx="179.2" cy="204.7" r="1.2" fill="#fff" stroke="#000" stroke-width="0.75"/>
<circle cx="180.8" cy="204.7" r="1.2" fill="#fff" stroke="#000" stroke-width="0.75"/>
<circle cx="182.2" cy="204.7" r="1.2" fill="#fff" stroke="#000" stroke-width="0.75"/>
<circle cx="183.8" cy="204.7" r="1.2" fill="#fff" stroke="#000" stroke-width="0.75"/>
<circle cx="185.2" cy="204.7" r="1.2" fill="#fff" stroke="#000" stroke-width="0.75"/>
<circle cx="186.8" cy="204.7" r="1.2" fill="#fff" stroke="#000" stroke-width="0.75"/>
<circle cx="188.2" cy="204.7" r="1.2" fill="#fff" stroke="#000" stroke-width="0.75"/>
<circle cx="189.8" cy="204.7" r="1.2" fill="#fff" stroke="#000" stroke-width="0.75"/>
<circle cx="269.8" cy="147.2" r="1.2" fill="#fff" stroke="#000" stroke-width="0.75"/>
<circle cx="271.4" cy="147.2" r="1.2" fill="#fff" stroke="#000" stroke-width="0.75"/>
<circle cx="273.0" cy="147.2" r="1.2" fill="#fff" stroke="#000" stroke-width="0.75"/>
<circle cx="274.7" cy="147.1" r="1.2" fill="#fff" stroke="#000" stroke-width="0.75"/>
<circle cx="276.3" cy="147.1" r="1.2" fill="#fff" stroke="#000" stroke-width="0.75"/>
<circle cx="277.9" cy="147.0" r="1.2" fill="#fff" stroke="#000" stroke-width="0.75"/>
<circle cx="279.5" cy="147.0" r="1.2" fill="#fff" stroke="#000" stroke-width="0.75"/>
<circle cx="281.1" cy="146.9" r="1.2" fill="#fff" stroke="#000" stroke-width="0.75"/>
<circle cx="282.8" cy="146.9" r="1.2" fill="#fff" stroke="#000" stroke-width="0.75"/>
<circle cx="284.4" cy="146.8" r="1.2" fill="#fff" stroke="#000" stroke-width="0.75"/>
<circle cx="286.0" cy="146.8" r="1.2" fill="#fff" stroke="#000" stroke-width="0.75"/>
<circle cx="287.6" cy="146.7" r="1.2" fill="#fff" stroke="#000" stroke-width="0.75"/>
<circle cx="289.2" cy="146.7" r="1.2" fill="#fff" stroke="#000" stroke-width="0.75"/>
<circle cx="290.8" cy="146.6" r="1.2" fill="#fff" stroke="#000" stroke-width="0.75"/>
<circle cx="292.5" cy="146.6" r="1.2" fill="#fff" stroke="#000" stroke-width="0.75"/>
<circle cx="294.1" cy="146.5" r="1.2" fill="#fff" stroke="#000" stroke-width="0.75"/>
<circle cx="295.7" cy="146.5" r="1.2" fill="#fff" stroke="#000" stroke-width="0.75"/>
<circle cx="297.3" cy="146.4" r="1.2" fill="#fff" stroke="#000" stroke-width="0.75"/>
<circle cx="298.9" cy="146.4" r="1.2" fill="#fff" stroke="#000" stroke-width="0.75"/>
<circle cx="300.6" cy="146.3" r="1.2" fill="#fff" stroke="#000" stroke-width="0.75"/>
<circle cx="302.2" cy="146.3" r="1.2" fill="#fff" stroke="#000" stroke-width="0.75"/>
<circle cx="303.8" cy="146.2" r="1.2" fill="#fff" stroke="#000" stroke-width="0.75"/>
<polyline fill="none" stroke="#000" stroke-width="0.85" points="271.7,219.9 304.0,219.9"/>
<polyline fill="none" stroke="#000" stroke-width="0.85" points="153.0,278.8 184.7,278.8"/>
<polyline fill="none" stroke="#000" stroke-width="0.85" points="272.1,219.9 266.8,220.5 262.9,222.5 259.6,225.1 255.7,227.8 251.7,230.4 248.4,234.3 245.8,240.3 243.2,242.9 237.9,245.5 229.5,248.3 214.5,251.2 206.6,252.5 201.3,253.8 198.0,258.4 195.4,265.0 193.4,271.6 188.2,276.2 182.3,278.3"/>
<polyline fill="none" stroke="#000" stroke-width="0.85" points="184.7,278.8 188.2,277.8 193.4,275.6 198.0,272.9 203.3,268.3 207.2,263.7 209.5,260.4 211.2,255.1 214.5,252.5 219.7,251.2 224.5,249.9 237.9,247.5 249.7,244.9 255.0,243.6 257.9,240.9 260.3,234.3 262.9,227.1 265.3,223.2 268.2,220.8 272.1,220.1"/>
<circle cx="271.7" cy="219.9" r="1.25" fill="#fff" stroke="#000" stroke-width="0.7"/>
<circle cx="273.4" cy="219.9" r="1.25" fill="#fff" stroke="#000" stroke-width="0.7"/>
<circle cx="275.1" cy="219.9" r="1.25" fill="#fff" stroke="#000" stroke-width="0.7"/>
<circle cx="276.8" cy="219.9" r="1.25" fill="#fff" stroke="#000" stroke-width="0.7"/>
<circle cx="278.5" cy="219.9" r="1.25" fill="#fff" stroke="#000" stroke-width="0.7"/>
<circle cx="280.2" cy="219.9" r="1.25" fill="#fff" stroke="#000" stroke-width="0.7"/>
<circle cx="281.9" cy="219.9" r="1.25" fill="#fff" stroke="#000" stroke-width="0.7"/>
<circle cx="283.6" cy="219.9" r="1.25" fill="#fff" stroke="#000" stroke-width="0.7"/>
<circle cx="285.3" cy="219.9" r="1.25" fill="#fff" stroke="#000" stroke-width="0.7"/>
<circle cx="287.0" cy="219.9" r="1.25" fill="#fff" stroke="#000" stroke-width="0.7"/>
<circle cx="288.7" cy="219.9" r="1.25" fill="#fff" stroke="#000" stroke-width="0.7"/>
<circle cx="290.4" cy="219.9" r="1.25" fill="#fff" stroke="#000" stroke-width="0.7"/>
<circle cx="292.1" cy="219.9" r="1.25" fill="#fff" stroke="#000" stroke-width="0.7"/>
<circle cx="293.8" cy="219.9" r="1.25" fill="#fff" stroke="#000" stroke-width="0.7"/>
<circle cx="295.5" cy="219.9" r="1.25" fill="#fff" stroke="#000" stroke-width="0.7"/>
<circle cx="297.2" cy="219.9" r="1.25" fill="#fff" stroke="#000" stroke-width="0.7"/>
<circle cx="298.9" cy="219.9" r="1.25" fill="#fff" stroke="#000" stroke-width="0.7"/>
<circle cx="300.6" cy="219.9" r="1.25" fill="#fff" stroke="#000" stroke-width="0.7"/>
<circle cx="302.3" cy="219.9" r="1.25" fill="#fff" stroke="#000" stroke-width="0.7"/>
<circle cx="304.0" cy="219.9" r="1.25" fill="#fff" stroke="#000" stroke-width="0.7"/>
<circle cx="153.0" cy="278.8" r="1.25" fill="#fff" stroke="#000" stroke-width="0.7"/>
<circle cx="154.5" cy="278.8" r="1.25" fill="#fff" stroke="#000" stroke-width="0.7"/>
<circle cx="156.0" cy="278.8" r="1.25" fill="#fff" stroke="#000" stroke-width="0.7"/>
<circle cx="157.5" cy="278.8" r="1.25" fill="#fff" stroke="#000" stroke-width="0.7"/>
<circle cx="159.0" cy="278.8" r="1.25" fill="#fff" stroke="#000" stroke-width="0.7"/>
<circle cx="160.5" cy="278.8" r="1.25" fill="#fff" stroke="#000" stroke-width="0.7"/>
<circle cx="162.1" cy="278.8" r="1.25" fill="#fff" stroke="#000" stroke-width="0.7"/>
<circle cx="163.6" cy="278.8" r="1.25" fill="#fff" stroke="#000" stroke-width="0.7"/>
<circle cx="165.1" cy="278.8" r="1.25" fill="#fff" stroke="#000" stroke-width="0.7"/>
<circle cx="166.6" cy="278.8" r="1.25" fill="#fff" stroke="#000" stroke-width="0.7"/>
<circle cx="168.1" cy="278.8" r="1.25" fill="#fff" stroke="#000" stroke-width="0.7"/>
<circle cx="169.6" cy="278.8" r="1.25" fill="#fff" stroke="#000" stroke-width="0.7"/>
<circle cx="171.1" cy="278.8" r="1.25" fill="#fff" stroke="#000" stroke-width="0.7"/>
<circle cx="172.6" cy="278.8" r="1.25" fill="#fff" stroke="#000" stroke-width="0.7"/>
<circle cx="174.1" cy="278.8" r="1.25" fill="#fff" stroke="#000" stroke-width="0.7"/>
<circle cx="175.6" cy="278.8" r="1.25" fill="#fff" stroke="#000" stroke-width="0.7"/>
<circle cx="177.2" cy="278.8" r="1.25" fill="#fff" stroke="#000" stroke-width="0.7"/>
<circle cx="178.7" cy="278.8" r="1.25" fill="#fff" stroke="#000" stroke-width="0.7"/>
<circle cx="180.2" cy="278.8" r="1.25" fill="#fff" stroke="#000" stroke-width="0.7"/>
<circle cx="181.7" cy="278.8" r="1.25" fill="#fff" stroke="#000" stroke-width="0.7"/>
<circle cx="183.2" cy="278.8" r="1.25" fill="#fff" stroke="#000" stroke-width="0.7"/>
<circle cx="184.7" cy="278.8" r="1.25" fill="#fff" stroke="#000" stroke-width="0.7"/>
<circle cx="272.1" cy="219.9" r="1.25" fill="#fff" stroke="#000" stroke-width="0.7"/>
<circle cx="269.5" cy="220.2" r="1.25" fill="#fff" stroke="#000" stroke-width="0.7"/>
<circle cx="266.8" cy="220.5" r="1.25" fill="#fff" stroke="#000" stroke-width="0.7"/>
<circle cx="264.9" cy="221.5" r="1.25" fill="#fff" stroke="#000" stroke-width="0.7"/>
<circle cx="262.9" cy="222.5" r="1.25" fill="#fff" stroke="#000" stroke-width="0.7"/>
<circle cx="261.2" cy="223.8" r="1.25" fill="#fff" stroke="#000" stroke-width="0.7"/>
<circle cx="259.6" cy="225.1" r="1.25" fill="#fff" stroke="#000" stroke-width="0.7"/>
<circle cx="257.6" cy="226.4" r="1.25" fill="#fff" stroke="#000" stroke-width="0.7"/>
<circle cx="255.7" cy="227.8" r="1.25" fill="#fff" stroke="#000" stroke-width="0.7"/>
<circle cx="253.7" cy="229.1" r="1.25" fill="#fff" stroke="#000" stroke-width="0.7"/>
<circle cx="251.7" cy="230.4" r="1.25" fill="#fff" stroke="#000" stroke-width="0.7"/>
<circle cx="250.1" cy="232.4" r="1.25" fill="#fff" stroke="#000" stroke-width="0.7"/>
<circle cx="248.4" cy="234.3" r="1.25" fill="#fff" stroke="#000" stroke-width="0.7"/>
<circle cx="247.5" cy="236.3" r="1.25" fill="#fff" stroke="#000" stroke-width="0.7"/>
<circle cx="246.7" cy="238.3" r="1.25" fill="#fff" stroke="#000" stroke-width="0.7"/>
<circle cx="245.8" cy="240.3" r="1.25" fill="#fff" stroke="#000" stroke-width="0.7"/>
<circle cx="243.2" cy="242.9" r="1.25" fill="#fff" stroke="#000" stroke-width="0.7"/>
<circle cx="240.6" cy="244.2" r="1.25" fill="#fff" stroke="#000" stroke-width="0.7"/>
<circle cx="237.9" cy="245.5" r="1.25" fill="#fff" stroke="#000" stroke-width="0.7"/>
<circle cx="235.8" cy="246.2" r="1.25" fill="#fff" stroke="#000" stroke-width="0.7"/>
<circle cx="233.7" cy="246.9" r="1.25" fill="#fff" stroke="#000" stroke-width="0.7"/>
<circle cx="231.6" cy="247.6" r="1.25" fill="#fff" stroke="#000" stroke-width="0.7"/>
<circle cx="229.5" cy="248.3" r="1.25" fill="#fff" stroke="#000" stroke-width="0.7"/>
<circle cx="227.0" cy="248.8" r="1.25" fill="#fff" stroke="#000" stroke-width="0.7"/>
<circle cx="224.5" cy="249.3" r="1.25" fill="#fff" stroke="#000" stroke-width="0.7"/>
<circle cx="222.0" cy="249.8" r="1.25" fill="#fff" stroke="#000" stroke-width="0.7"/>
<circle cx="219.5" cy="250.2" r="1.25" fill="#fff" stroke="#000" stroke-width="0.7"/>
<circle cx="217.0" cy="250.7" r="1.25" fill="#fff" stroke="#000" stroke-width="0.7"/>
<circle cx="214.5" cy="251.2" r="1.25" fill="#fff" stroke="#000" stroke-width="0.7"/>
<circle cx="211.9" cy="251.6" r="1.25" fill="#fff" stroke="#000" stroke-width="0.7"/>
<circle cx="209.2" cy="252.1" r="1.25" fill="#fff" stroke="#000" stroke-width="0.7"/>
<circle cx="206.6" cy="252.5" r="1.25" fill="#fff" stroke="#000" stroke-width="0.7"/>
<circle cx="203.9" cy="253.2" r="1.25" fill="#fff" stroke="#000" stroke-width="0.7"/>
<circle cx="201.3" cy="253.8" r="1.25" fill="#fff" stroke="#000" stroke-width="0.7"/>
<circle cx="199.7" cy="256.1" r="1.25" fill="#fff" stroke="#000" stroke-width="0.7"/>
<circle cx="198.0" cy="258.4" r="1.25" fill="#fff" stroke="#000" stroke-width="0.7"/>
<circle cx="197.1" cy="260.6" r="1.25" fill="#fff" stroke="#000" stroke-width="0.7"/>
<circle cx="196.3" cy="262.8" r="1.25" fill="#fff" stroke="#000" stroke-width="0.7"/>
<circle cx="195.4" cy="265.0" r="1.25" fill="#fff" stroke="#000" stroke-width="0.7"/>
<circle cx="194.7" cy="267.2" r="1.25" fill="#fff" stroke="#000" stroke-width="0.7"/>
<circle cx="194.1" cy="269.4" r="1.25" fill="#fff" stroke="#000" stroke-width="0.7"/>
<circle cx="193.4" cy="271.6" r="1.25" fill="#fff" stroke="#000" stroke-width="0.7"/>
<circle cx="191.7" cy="273.1" r="1.25" fill="#fff" stroke="#000" stroke-width="0.7"/>
<circle cx="189.9" cy="274.7" r="1.25" fill="#fff" stroke="#000" stroke-width="0.7"/>
<circle cx="188.2" cy="276.2" r="1.25" fill="#fff" stroke="#000" stroke-width="0.7"/>
<circle cx="186.2" cy="276.9" r="1.25" fill="#fff" stroke="#000" stroke-width="0.7"/>
<circle cx="184.3" cy="277.6" r="1.25" fill="#fff" stroke="#000" stroke-width="0.7"/>
<circle cx="182.3" cy="278.3" r="1.25" fill="#fff" stroke="#000" stroke-width="0.7"/>
<circle cx="184.7" cy="278.8" r="1.25" fill="#fff" stroke="#000" stroke-width="0.7"/>
<circle cx="188.2" cy="277.8" r="1.25" fill="#fff" stroke="#000" stroke-width="0.7"/>
<circle cx="190.8" cy="276.7" r="1.25" fill="#fff" stroke="#000" stroke-width="0.7"/>
<circle cx="193.4" cy="275.6" r="1.25" fill="#fff" stroke="#000" stroke-width="0.7"/>
<circle cx="195.7" cy="274.2" r="1.25" fill="#fff" stroke="#000" stroke-width="0.7"/>
<circle cx="198.0" cy="272.9" r="1.25" fill="#fff" stroke="#000" stroke-width="0.7"/>
<circle cx="199.8" cy="271.4" r="1.25" fill="#fff" stroke="#000" stroke-width="0.7"/>
<circle cx="201.5" cy="269.8" r="1.25" fill="#fff" stroke="#000" stroke-width="0.7"/>
<circle cx="203.3" cy="268.3" r="1.25" fill="#fff" stroke="#000" stroke-width="0.7"/>
<circle cx="205.2" cy="266.0" r="1.25" fill="#fff" stroke="#000" stroke-width="0.7"/>
<circle cx="207.2" cy="263.7" r="1.25" fill="#fff" stroke="#000" stroke-width="0.7"/>
<circle cx="208.3" cy="262.0" r="1.25" fill="#fff" stroke="#000" stroke-width="0.7"/>
<circle cx="209.5" cy="260.4" r="1.25" fill="#fff" stroke="#000" stroke-width="0.7"/>
<circle cx="210.3" cy="257.8" r="1.25" fill="#fff" stroke="#000" stroke-width="0.7"/>
<circle cx="211.2" cy="255.1" r="1.25" fill="#fff" stroke="#000" stroke-width="0.7"/>
<circle cx="212.8" cy="253.8" r="1.25" fill="#fff" stroke="#000" stroke-width="0.7"/>
<circle cx="214.5" cy="252.5" r="1.25" fill="#fff" stroke="#000" stroke-width="0.7"/>
<circle cx="217.1" cy="251.8" r="1.25" fill="#fff" stroke="#000" stroke-width="0.7"/>
<circle cx="219.7" cy="251.2" r="1.25" fill="#fff" stroke="#000" stroke-width="0.7"/>
<circle cx="222.1" cy="250.6" r="1.25" fill="#fff" stroke="#000" stroke-width="0.7"/>
<circle cx="224.5" cy="249.9" r="1.25" fill="#fff" stroke="#000" stroke-width="0.7"/>
<circle cx="227.2" cy="249.4" r="1.25" fill="#fff" stroke="#000" stroke-width="0.7"/>
<circle cx="229.9" cy="248.9" r="1.25" fill="#fff" stroke="#000" stroke-width="0.7"/>
<circle cx="232.5" cy="248.5" r="1.25" fill="#fff" stroke="#000" stroke-width="0.7"/>
<circle cx="235.2" cy="248.0" r="1.25" fill="#fff" stroke="#000" stroke-width="0.7"/>
<circle cx="237.9" cy="247.5" r="1.25" fill="#fff" stroke="#000" stroke-width="0.7"/>
<circle cx="240.3" cy="247.0" r="1.25" fill="#fff" stroke="#000" stroke-width="0.7"/>
<circle cx="242.6" cy="246.5" r="1.25" fill="#fff" stroke="#000" stroke-width="0.7"/>
<circle cx="245.0" cy="245.9" r="1.25" fill="#fff" stroke="#000" stroke-width="0.7"/>
<circle cx="247.3" cy="245.4" r="1.25" fill="#fff" stroke="#000" stroke-width="0.7"/>
<circle cx="249.7" cy="244.9" r="1.25" fill="#fff" stroke="#000" stroke-width="0.7"/>
<circle cx="252.3" cy="244.2" r="1.25" fill="#fff" stroke="#000" stroke-width="0.7"/>
<circle cx="255.0" cy="243.6" r="1.25" fill="#fff" stroke="#000" stroke-width="0.7"/>
<circle cx="256.4" cy="242.2" r="1.25" fill="#fff" stroke="#000" stroke-width="0.7"/>
<circle cx="257.9" cy="240.9" r="1.25" fill="#fff" stroke="#000" stroke-width="0.7"/>
<circle cx="258.7" cy="238.7" r="1.25" fill="#fff" stroke="#000" stroke-width="0.7"/>
<circle cx="259.5" cy="236.5" r="1.25" fill="#fff" stroke="#000" stroke-width="0.7"/>
<circle cx="260.3" cy="234.3" r="1.25" fill="#fff" stroke="#000" stroke-width="0.7"/>
<circle cx="261.2" cy="231.9" r="1.25" fill="#fff" stroke="#000" stroke-width="0.7"/>
<circle cx="262.0" cy="229.5" r="1.25" fill="#fff" stroke="#000" stroke-width="0.7"/>
<circle cx="262.9" cy="227.1" r="1.25" fill="#fff" stroke="#000" stroke-width="0.7"/>
<circle cx="264.1" cy="225.1" r="1.25" fill="#fff" stroke="#000" stroke-width="0.7"/>
<circle cx="265.3" cy="223.2" r="1.25" fill="#fff" stroke="#000" stroke-width="0.7"/>
<circle cx="266.8" cy="222.0" r="1.25" fill="#fff" stroke="#000" stroke-width="0.7"/>
<circle cx="268.2" cy="220.8" r="1.25" fill="#fff" stroke="#000" stroke-width="0.7"/>
<circle cx="270.1" cy="220.4" r="1.25" fill="#fff" stroke="#000" stroke-width="0.7"/>
<circle cx="272.1" cy="220.1" r="1.25" fill="#fff" stroke="#000" stroke-width="0.7"/>
<circle cx="153.8" cy="278.2" r="1.2" fill="#fff" stroke="#000" stroke-width="0.75"/>
<circle cx="155.2" cy="278.2" r="1.2" fill="#fff" stroke="#000" stroke-width="0.75"/>
<circle cx="156.8" cy="278.2" r="1.2" fill="#fff" stroke="#000" stroke-width="0.75"/>
<circle cx="158.2" cy="278.2" r="1.2" fill="#fff" stroke="#000" stroke-width="0.75"/>
<circle cx="159.8" cy="278.2" r="1.2" fill="#fff" stroke="#000" stroke-width="0.75"/>
<circle cx="161.2" cy="278.2" r="1.2" fill="#fff" stroke="#000" stroke-width="0.75"/>
<circle cx="162.8" cy="278.2" r="1.2" fill="#fff" stroke="#000" stroke-width="0.75"/>
<circle cx="164.2" cy="278.2" r="1.2" fill="#fff" stroke="#000" stroke-width="0.75"/>
<circle cx="165.8" cy="278.2" r="1.2" fill="#fff" stroke="#000" stroke-width="0.75"/>
<circle cx="167.2" cy="278.2" r="1.2" fill="#fff" stroke="#000" stroke-width="0.75"/>
<circle cx="168.8" cy="278.2" r="1.2" fill="#fff" stroke="#000" stroke-width="0.75"/>
<circle cx="170.2" cy="278.2" r="1.2" fill="#fff" stroke="#000" stroke-width="0.75"/>
<circle cx="171.8" cy="278.2" r="1.2" fill="#fff" stroke="#000" stroke-width="0.75"/>
<circle cx="173.2" cy="278.2" r="1.2" fill="#fff" stroke="#000" stroke-width="0.75"/>
<circle cx="174.8" cy="278.2" r="1.2" fill="#fff" stroke="#000" stroke-width="0.75"/>
<circle cx="176.2" cy="278.2" r="1.2" fill="#fff" stroke="#000" stroke-width="0.75"/>
<circle cx="177.8" cy="278.2" r="1.2" fill="#fff" stroke="#000" stroke-width="0.75"/>
<circle cx="179.2" cy="278.2" r="1.2" fill="#fff" stroke="#000" stroke-width="0.75"/>
<circle cx="180.8" cy="278.2" r="1.2" fill="#fff" stroke="#000" stroke-width="0.75"/>
<circle cx="182.2" cy="278.2" r="1.2" fill="#fff" stroke="#000" stroke-width="0.75"/>
<circle cx="183.8" cy="278.2" r="1.2" fill="#fff" stroke="#000" stroke-width="0.75"/>
<circle cx="273.8" cy="220.2" r="1.2" fill="#fff" stroke="#000" stroke-width="0.75"/>
<circle cx="275.4" cy="220.2" r="1.2" fill="#fff" stroke="#000" stroke-width="0.75"/>
<circle cx="277.0" cy="220.2" r="1.2" fill="#fff" stroke="#000" stroke-width="0.75"/>
<circle cx="278.5" cy="220.2" r="1.2" fill="#fff" stroke="#000" stroke-width="0.75"/>
<circle cx="280.1" cy="220.2" r="1.2" fill="#fff" stroke="#000" stroke-width="0.75"/>
<circle cx="281.7" cy="220.2" r="1.2" fill="#fff" stroke="#000" stroke-width="0.75"/>
<circle cx="283.3" cy="220.2" r="1.2" fill="#fff" stroke="#000" stroke-width="0.75"/>
<circle cx="284.9" cy="220.2" r="1.2" fill="#fff" stroke="#000" stroke-width="0.75"/>
<circle cx="286.4" cy="220.2" r="1.2" fill="#fff" stroke="#000" stroke-width="0.75"/>
<circle cx="288.0" cy="220.2" r="1.2" fill="#fff" stroke="#000" stroke-width="0.75"/>
<circle cx="289.6" cy="220.2" r="1.2" fill="#fff" stroke="#000" stroke-width="0.75"/>
<circle cx="291.2" cy="220.2" r="1.2" fill="#fff" stroke="#000" stroke-width="0.75"/>
<circle cx="292.7" cy="220.2" r="1.2" fill="#fff" stroke="#000" stroke-width="0.75"/>
<circle cx="294.3" cy="220.2" r="1.2" fill="#fff" stroke="#000" stroke-width="0.75"/>
<circle cx="295.9" cy="220.2" r="1.2" fill="#fff" stroke="#000" stroke-width="0.75"/>
<circle cx="297.5" cy="220.2" r="1.2" fill="#fff" stroke="#000" stroke-width="0.75"/>
<circle cx="299.1" cy="220.2" r="1.2" fill="#fff" stroke="#000" stroke-width="0.75"/>
<circle cx="300.6" cy="220.2" r="1.2" fill="#fff" stroke="#000" stroke-width="0.75"/>
<circle cx="302.2" cy="220.2" r="1.2" fill="#fff" stroke="#000" stroke-width="0.75"/>
<circle cx="303.8" cy="220.2" r="1.2" fill="#fff" stroke="#000" stroke-width="0.75"/>
<rect x="414.3" y="0" width="285.7" height="1.15" fill="#000"/>
<rect x="414.3" y="0" width="1.7" height="285.7" fill="#000"/>
<rect x="414.3" y="284" width="285.7" height="1.7" fill="#000"/>
<rect x="698.4" y="0" width="1.6" height="285.7" fill="#000"/>
<line x1="472.1" y1="284.9" x2="472.1" y2="281.9" stroke="#000" stroke-width="1.5"/>
<line x1="528.9" y1="284.9" x2="528.9" y2="279.5" stroke="#000" stroke-width="1.5"/>
<line x1="528.9" y1="0.6" x2="528.9" y2="6.6" stroke="#000" stroke-width="1.5"/>
<line x1="585.8" y1="284.9" x2="585.8" y2="281.9" stroke="#000" stroke-width="1.5"/>
<line x1="642.6" y1="284.9" x2="642.6" y2="279.5" stroke="#000" stroke-width="1.5"/>
<line x1="642.6" y1="0.6" x2="642.6" y2="6.6" stroke="#000" stroke-width="1.5"/>
<line x1="415.2" y1="201.1" x2="420.8" y2="201.1" stroke="#000" stroke-width="1.6"/>
<line x1="699.2" y1="201.1" x2="693.8000000000001" y2="201.1" stroke="#000" stroke-width="1.6"/>
<line x1="415.2" y1="117.2" x2="420.8" y2="117.2" stroke="#000" stroke-width="1.6"/>
<line x1="699.2" y1="117.2" x2="693.8000000000001" y2="117.2" stroke="#000" stroke-width="1.6"/>
<line x1="415.2" y1="33.3" x2="420.8" y2="33.3" stroke="#000" stroke-width="1.6"/>
<line x1="699.2" y1="33.3" x2="693.8000000000001" y2="33.3" stroke="#000" stroke-width="1.6"/>
<text x="399.9" y="289.3" font-size="15.6" textLength="8.0" lengthAdjust="spacingAndGlyphs" font-family="Liberation Sans, sans-serif" font-weight="bold" stroke="#000" stroke-width="0.7" stroke-linejoin="round" >0</text>
<text x="390.5" y="205.40000000000003" font-size="15.6" textLength="17.4" lengthAdjust="spacingAndGlyphs" font-family="Liberation Sans, sans-serif" font-weight="bold" stroke="#000" stroke-width="0.7" stroke-linejoin="round" >50</text>
<text x="381.79999999999995" y="121.50000000000001" font-size="15.6" textLength="26.099999999999998" lengthAdjust="spacingAndGlyphs" font-family="Liberation Sans, sans-serif" font-weight="bold" stroke="#000" stroke-width="0.7" stroke-linejoin="round" >100</text>
<text x="381.79999999999995" y="37.60000000000001" font-size="15.6" textLength="26.099999999999998" lengthAdjust="spacingAndGlyphs" font-family="Liberation Sans, sans-serif" font-weight="bold" stroke="#000" stroke-width="0.7" stroke-linejoin="round" >150</text>
<text x="410.3" y="303.5" font-size="15.6" textLength="8.099999999999966" lengthAdjust="spacingAndGlyphs" font-family="Liberation Sans, sans-serif" font-weight="bold" stroke="#000" stroke-width="0.7" stroke-linejoin="round" >0</text>
<text x="523.3" y="303.5" font-size="15.6" textLength="8.200000000000045" lengthAdjust="spacingAndGlyphs" font-family="Liberation Sans, sans-serif" font-weight="bold" stroke="#000" stroke-width="0.7" stroke-linejoin="round" >1</text>
<text x="638.2" y="303.5" font-size="15.6" textLength="7.899999999999977" lengthAdjust="spacingAndGlyphs" font-family="Liberation Sans, sans-serif" font-weight="bold" stroke="#000" stroke-width="0.7" stroke-linejoin="round" >2</text>
<text x="453" y="336.7" font-size="20.5" textLength="206.4" lengthAdjust="spacingAndGlyphs" font-family="Liberation Sans, sans-serif" font-weight="bold" stroke="#000" stroke-width="0.7" stroke-linejoin="round" >CoO Thickness (nm)</text>
<text x="0" y="0" font-size="21.8" textLength="58" lengthAdjust="spacingAndGlyphs" font-family="Liberation Sans, sans-serif" font-weight="bold" stroke="#000" stroke-width="0.75" stroke-linejoin="round" transform="translate(360.3,182.8) rotate(-90)">H(Oe)</text>
<text x="642.3" y="36.7" font-size="25" textLength="31.9" lengthAdjust="spacingAndGlyphs" font-family="Liberation Sans, sans-serif" font-weight="bold" stroke="#000" stroke-width="0.95" stroke-linejoin="round" >(b)</text>
<rect x="444.0" y="263.8" width="8.4" height="8.4" fill="none" stroke="#444" stroke-width="0.9"/>
<rect x="462.0" y="248.2" width="8.4" height="8.4" fill="none" stroke="#444" stroke-width="0.9"/>
<rect x="473.3" y="220.4" width="8.4" height="8.4" fill="none" stroke="#444" stroke-width="0.9"/>
<rect x="484.8" y="196.2" width="8.4" height="8.4" fill="none" stroke="#444" stroke-width="0.9"/>
<rect x="496.1" y="173.5" width="8.4" height="8.4" fill="none" stroke="#444" stroke-width="0.9"/>
<rect x="507.4" y="152.4" width="8.4" height="8.4" fill="none" stroke="#444" stroke-width="0.9"/>
<rect x="518.7" y="137.9" width="8.4" height="8.4" fill="none" stroke="#444" stroke-width="0.9"/>
<rect x="530.8" y="119.5" width="8.4" height="8.4" fill="none" stroke="#444" stroke-width="0.9"/>
<rect x="541.4" y="108.4" width="8.4" height="8.4" fill="none" stroke="#444" stroke-width="0.9"/>
<rect x="552.6" y="100.0" width="8.4" height="8.4" fill="none" stroke="#444" stroke-width="0.9"/>
<rect x="564.0" y="95.2" width="8.4" height="8.4" fill="none" stroke="#444" stroke-width="0.9"/>
<rect x="575.8" y="93.1" width="8.4" height="8.4" fill="none" stroke="#444" stroke-width="0.9"/>
<rect x="586.8" y="82.6" width="8.4" height="8.4" fill="none" stroke="#444" stroke-width="0.9"/>
<rect x="609.8" y="77.4" width="8.4" height="8.4" fill="none" stroke="#444" stroke-width="0.9"/>
<rect x="632.6" y="75.3" width="8.4" height="8.4" fill="none" stroke="#444" stroke-width="0.9"/>
<line x1="442.9" y1="67.9" x2="652.7" y2="67.9" stroke="#000" stroke-width="3.1" stroke-linecap="round"/>
<polyline fill="none" stroke="#000" stroke-width="3.1" stroke-linejoin="round" stroke-linecap="round" points="415.6,267.2 450.3,267.2 508.0,160.5 520.8,141.6 531.3,125.8 535.3,121.0 540.0,117.8 545.8,114.7 552.4,110.8 567.4,101.8 576.0,97.2 585.8,92.6 596.0,88.6 606.8,85.3 616.0,83.0 625.3,81.3 635.8,80.4 659.9,80.3"/>
<polyline fill="none" stroke="#000" stroke-width="3.1" stroke-linejoin="round" stroke-linecap="round" points="415.6,267.2 451.0,267.2 470.5,231.5 478.0,218.0 483.0,211.0 489.0,206.0 494.7,202.0 500.0,198.0 511.4,187.3 523.0,177.0 528.5,173.0 534.5,170.0 545.8,165.0 557.0,161.2 568.5,158.4 580.0,156.3 591.0,155.4 614.0,155.2 653.4,155.2"/>
<rect x="443.4" y="258.6" width="9.8" height="9.8" fill="#000"/>
<rect x="461.9" y="225.3" width="9.8" height="9.8" fill="#000"/>
<rect x="472.6" y="215.1" width="9.8" height="9.8" fill="#000"/>
<rect x="483.9" y="209.1" width="9.8" height="9.8" fill="#000"/>
<rect x="494.8" y="192.7" width="9.8" height="9.8" fill="#000"/>
<rect x="506.5" y="182.1" width="9.8" height="9.8" fill="#000"/>
<rect x="518.0" y="171.0" width="9.8" height="9.8" fill="#000"/>
<rect x="529.6" y="165.1" width="9.8" height="9.8" fill="#000"/>
<rect x="540.9" y="159.6" width="9.8" height="9.8" fill="#000"/>
<rect x="552.2" y="155.1" width="9.8" height="9.8" fill="#000"/>
<rect x="563.5" y="155.1" width="9.8" height="9.8" fill="#000"/>
<rect x="575.7" y="149.5" width="9.8" height="9.8" fill="#000"/>
<rect x="586.0" y="149.5" width="9.8" height="9.8" fill="#000"/>
<rect x="609.1" y="149.6" width="9.8" height="9.8" fill="#000"/>
<rect x="631.7" y="149.6" width="9.8" height="9.8" fill="#000"/>
<circle cx="447.6" cy="54.0" r="5.45" fill="#000"/>
<circle cx="466.1" cy="59.2" r="5.45" fill="#000"/>
<circle cx="477.1" cy="67.2" r="5.45" fill="#000"/>
<circle cx="488.6" cy="74.7" r="5.45" fill="#000"/>
<circle cx="500.0" cy="72.1" r="5.45" fill="#000"/>
<circle cx="511.3" cy="75.5" r="5.45" fill="#000"/>
<circle cx="522.7" cy="80.4" r="5.45" fill="#000"/>
<circle cx="534.4" cy="76.0" r="5.45" fill="#000"/>
<circle cx="545.5" cy="71.2" r="5.45" fill="#000"/>
<circle cx="556.9" cy="69.4" r="5.45" fill="#000"/>
<circle cx="568.3" cy="65.2" r="5.45" fill="#000"/>
<circle cx="579.9" cy="63.4" r="5.45" fill="#000"/>
<circle cx="591.0" cy="63.4" r="5.45" fill="#000"/>
<circle cx="614.1" cy="62.0" r="5.45" fill="#000"/>
<circle cx="637.0" cy="68.4" r="5.45" fill="#000"/>
<rect x="558.4" y="188.9" width="10" height="10" fill="#000"/>
<circle cx="563.3" cy="225" r="5.4" fill="#000"/>
<rect x="559.2" y="251.9" width="8.4" height="8.4" fill="none" stroke="#444" stroke-width="0.9"/>
<text font-family="Liberation Sans, sans-serif" font-weight="bold" stroke="#000" stroke-linejoin="round"><tspan x="588.2" y="200" font-size="15.6" textLength="11.2" lengthAdjust="spacingAndGlyphs" stroke-width="0.7">H</tspan><tspan x="600.2" y="207.1" font-size="13.5" textLength="7" lengthAdjust="spacingAndGlyphs" stroke-width="0.65">c</tspan> <tspan x="611.6" y="200" font-size="16.3" textLength="43.0" lengthAdjust="spacingAndGlyphs" stroke-width="0.7">(α=10</tspan><tspan x="656" y="190.1" font-size="12.8" textLength="7" lengthAdjust="spacingAndGlyphs" stroke-width="0.65">o</tspan><tspan x="664.6" y="200" font-size="16.3" textLength="4.3" lengthAdjust="spacingAndGlyphs" stroke-width="0.7">)</tspan></text>
<text font-family="Liberation Sans, sans-serif" font-weight="bold" stroke="#000" stroke-linejoin="round"><tspan x="588.2" y="230.6" font-size="15.6" textLength="11.2" lengthAdjust="spacingAndGlyphs" stroke-width="0.7">H</tspan><tspan x="600.2" y="237.7" font-size="13.5" textLength="7" lengthAdjust="spacingAndGlyphs" stroke-width="0.65">s</tspan> <tspan x="611.6" y="230.6" font-size="16.3" textLength="43.0" lengthAdjust="spacingAndGlyphs" stroke-width="0.7">(α=10</tspan><tspan x="656" y="220.7" font-size="12.8" textLength="7" lengthAdjust="spacingAndGlyphs" stroke-width="0.65">o</tspan><tspan x="664.6" y="230.6" font-size="16.3" textLength="4.3" lengthAdjust="spacingAndGlyphs" stroke-width="0.7">)</tspan></text>
<text font-family="Liberation Sans, sans-serif" font-weight="bold" stroke="#000" stroke-linejoin="round"><tspan x="588.2" y="261.3" font-size="15.6" textLength="11.2" lengthAdjust="spacingAndGlyphs" stroke-width="0.7">H</tspan><tspan x="600.2" y="268.40000000000003" font-size="13.5" textLength="7" lengthAdjust="spacingAndGlyphs" stroke-width="0.65">c</tspan> <tspan x="611.6" y="261.3" font-size="16.3" textLength="34.19999999999993" lengthAdjust="spacingAndGlyphs" stroke-width="0.7">(α=0</tspan><tspan x="647.2" y="251.4" font-size="12.8" textLength="7" lengthAdjust="spacingAndGlyphs" stroke-width="0.65">o</tspan><tspan x="655.8000000000001" y="261.3" font-size="16.3" textLength="4.3" lengthAdjust="spacingAndGlyphs" stroke-width="0.7">)</tspan></text>
</svg>
</body></html>
